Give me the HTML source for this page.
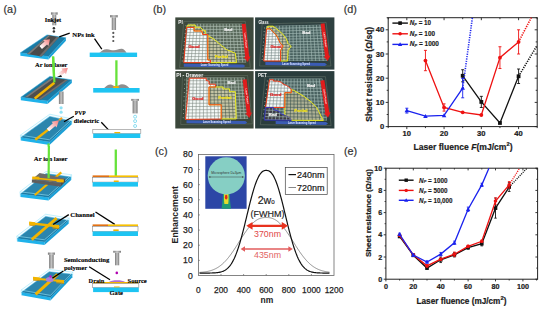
<!DOCTYPE html>
<html><head><meta charset="utf-8"><style>
html,body{margin:0;padding:0;background:#fff;width:550px;height:310px;overflow:hidden}
svg{display:block}
</style></head><body>
<svg width="550" height="310" viewBox="0 0 550 310">
<rect width="550" height="310" fill="#fff"/>
<text x="3.40" y="9.15" font-family="Liberation Sans" font-size="10.8" font-weight="normal" font-style="normal" fill="#333" text-anchor="start" dominant-baseline="central" stroke="#333" stroke-width="0.2">(a)</text>
<text x="153.00" y="8.90" font-family="Liberation Sans" font-size="10.8" font-weight="normal" font-style="normal" fill="#333" text-anchor="start" dominant-baseline="central" stroke="#333" stroke-width="0.2">(b)</text>
<text x="155.00" y="150.50" font-family="Liberation Sans" font-size="10.8" font-weight="normal" font-style="normal" fill="#333" text-anchor="start" dominant-baseline="central" stroke="#333" stroke-width="0.2">(c)</text>
<text x="343.70" y="9.15" font-family="Liberation Sans" font-size="10.8" font-weight="normal" font-style="normal" fill="#333" text-anchor="start" dominant-baseline="central" stroke="#333" stroke-width="0.2">(d)</text>
<text x="343.90" y="150.50" font-family="Liberation Sans" font-size="10.8" font-weight="normal" font-style="normal" fill="#333" text-anchor="start" dominant-baseline="central" stroke="#333" stroke-width="0.2">(e)</text>
<polygon points="20.40,52.80 48.50,56.60 48.50,59.60 20.40,55.80" fill="#1fb2ea" stroke="none" stroke-width="0" />
<polygon points="48.50,56.60 65.90,37.80 65.90,40.80 48.50,59.60" fill="#1a9fd6" stroke="none" stroke-width="0" />
<polygon points="20.40,52.80 47.00,34.90 65.90,37.80 48.50,56.60" fill="#1b7aa4" stroke="#22a6dc" stroke-width="0.5" />
<polygon points="27.00,53.90 48.60,35.30 59.00,37.20 41.50,56.60" fill="#4a4a4a" stroke="none" stroke-width="0" />
<polygon points="27.00,53.90 48.60,35.30 50.40,35.60 29.50,54.30" fill="#7a7a7a" stroke="none" stroke-width="0" />
<polygon points="39.00,56.20 56.80,36.80 59.00,37.20 41.50,56.60" fill="#6c6c6c" stroke="none" stroke-width="0" />
<defs><linearGradient id="pg407475" gradientUnits="userSpaceOnUse" x1="40.7" y1="47.5" x2="50.0" y2="39.3"><stop offset="0" stop-color="#ffffff"/><stop offset="1" stop-color="#f47c7c"/></linearGradient></defs>
<polygon points="41.96,48.93 47.07,44.42 48.45,45.98 50.00,39.30 43.18,40.00 44.56,41.56 39.44,46.07" fill="url(#pg407475)"/>
<defs><linearGradient id="nz54312" x1="0" x2="1" y1="0" y2="0"><stop offset="0" stop-color="#7a7a7a"/><stop offset="0.5" stop-color="#c4c4c4"/><stop offset="1" stop-color="#7a7a7a"/></linearGradient></defs>
<rect x="50.95" y="12.30" width="6.7" height="2.4" fill="url(#nz54312)"/>
<rect x="52.35" y="14.70" width="3.9" height="10.60" fill="url(#nz54312)"/>
<text x="52.90" y="19.20" font-family="Liberation Serif" font-size="6.6" font-weight="bold" fill="#000" stroke="#000" stroke-width="0.12" text-anchor="middle" dominant-baseline="central" textLength="16.4" lengthAdjust="spacingAndGlyphs">Inkjet</text>
<circle cx="53.9" cy="28.2" r="1.25" fill="#333"/><circle cx="53.9" cy="31.6" r="1.25" fill="#333"/>
<line x1="59.20" y1="36.80" x2="69.70" y2="33.20" stroke="#000" stroke-width="1.25" />
<text x="72.30" y="34.20" font-family="Liberation Serif" font-size="6.4" font-weight="bold" fill="#000" stroke="#000" stroke-width="0.12" text-anchor="start" dominant-baseline="central" textLength="22.5" lengthAdjust="spacingAndGlyphs">NPs ink</text>
<line x1="94.50" y1="38.70" x2="101.80" y2="49.20" stroke="#000" stroke-width="1.25" />
<defs><linearGradient id="nz113915" x1="0" x2="1" y1="0" y2="0"><stop offset="0" stop-color="#7a7a7a"/><stop offset="0.5" stop-color="#c4c4c4"/><stop offset="1" stop-color="#7a7a7a"/></linearGradient></defs>
<rect x="110.05" y="15.10" width="7.7" height="2.3" fill="url(#nz113915)"/>
<rect x="111.75" y="17.40" width="4.3" height="12.60" fill="url(#nz113915)"/>
<circle cx="113.3" cy="32.9" r="1.1" fill="#555"/>
<circle cx="113.3" cy="36.8" r="1.1" fill="#555"/>
<circle cx="113.3" cy="41.0" r="1.1" fill="#555"/>
<path d="M99.3,52.8 C102,50.8 104,49 107,49.3 C110,49.8 112,50.4 114,50.3 C117,50.2 119,48.5 122,48.7 C124,49 125.5,51 126.6,52.8 Z" fill="#8e8e8e"/>
<rect x="89.7" y="52.6" width="47.4" height="4.4" fill="#1ec4f2"/>
<line x1="116.40" y1="60.30" x2="116.40" y2="87.40" stroke="#66e23a" stroke-width="2.3" />
<line x1="53.00" y1="56.50" x2="54.20" y2="82.60" stroke="#66e23a" stroke-width="2.2" />
<text x="51.20" y="64.20" font-family="Liberation Serif" font-size="6.6" font-weight="bold" fill="#000" stroke="#000" stroke-width="0.12" text-anchor="middle" dominant-baseline="central" textLength="32.3" lengthAdjust="spacingAndGlyphs">Ar ion laser</text>
<polygon points="20.80,97.30 47.50,101.00 47.50,104.00 20.80,100.30" fill="#1fb2ea" stroke="none" stroke-width="0" />
<polygon points="47.50,101.00 71.80,79.90 71.80,82.90 47.50,104.00" fill="#1a9fd6" stroke="none" stroke-width="0" />
<polygon points="20.80,97.30 49.80,76.40 71.80,79.90 47.50,101.00" fill="#1b7aa4" stroke="#22a6dc" stroke-width="0.5" />
<polygon points="25.04,96.95 52.01,77.52 67.85,80.04 40.88,99.47" fill="#4e4e4e" stroke="none" stroke-width="0" />
<polygon points="25.04,96.95 52.01,77.52 54.43,77.90 27.46,97.34" fill="#7a7a7a" stroke="none" stroke-width="0" />
<polygon points="38.46,99.09 65.43,79.65 67.85,80.04 40.88,99.47" fill="#6e6e6e" stroke="none" stroke-width="0" />
<line x1="34.70" y1="98.40" x2="54.40" y2="82.80" stroke="#f2b400" stroke-width="2.5" />
<line x1="53.20" y1="56.50" x2="54.40" y2="82.40" stroke="#66e23a" stroke-width="2.2" />
<defs><linearGradient id="pg585755" gradientUnits="userSpaceOnUse" x1="58.5" y1="75.5" x2="67.8" y2="68.0"><stop offset="0" stop-color="#ffffff"/><stop offset="1" stop-color="#f47c7c"/></linearGradient></defs>
<polygon points="59.63,76.90 64.74,72.78 65.99,74.32 67.80,68.00 61.24,68.43 62.49,69.97 57.37,74.10" fill="url(#pg585755)"/>
<path d="M57,77 L61,75 L62,77 Z" fill="#111"/>
<path d="M104.2,88 C106,86 108,84.4 110.5,84.4 C112.5,84.6 113.5,86 116,86 C118.5,86 119.5,84.5 122,84.3 C125,84.3 127.5,86 129.3,88 Z" fill="#8e8e8e"/>
<rect x="113.3" y="86.2" width="5.4" height="2.0" fill="#f2b400"/>
<rect x="93.2" y="88.0" width="46.4" height="4.6" fill="#1ec4f2"/>
<defs><linearGradient id="nz61291" x1="0" x2="1" y1="0" y2="0"><stop offset="0" stop-color="#7a7a7a"/><stop offset="0.5" stop-color="#c4c4c4"/><stop offset="1" stop-color="#7a7a7a"/></linearGradient></defs>
<rect x="58.90" y="91.50" width="4.6" height="0.1" fill="url(#nz61291)"/>
<rect x="58.90" y="91.60" width="4.6" height="12.40" fill="url(#nz61291)"/>
<circle cx="61.1" cy="107.8" r="1.6" fill="#8fe2f6"/>
<circle cx="61.1" cy="112.2" r="1.6" fill="#8fe2f6"/>
<polygon points="20.80,137.40 49.50,142.00 49.50,145.00 20.80,140.40" fill="#1fb2ea" stroke="none" stroke-width="0" />
<polygon points="49.50,142.00 71.80,121.20 71.80,124.20 49.50,145.00" fill="#1a9fd6" stroke="none" stroke-width="0" />
<polygon points="20.80,137.40 49.80,116.40 71.80,121.20 49.50,142.00" fill="#1b7aa4" stroke="#22a6dc" stroke-width="0.5" />
<polygon points="20.30,135.20 49.80,114.20 72.30,119.00 49.50,139.80" fill="#bfefff" fill-opacity="0.10" stroke="#9be6fa" stroke-width="0.6"/>
<line x1="20.30" y1="135.20" x2="20.80" y2="140.40" stroke="#9be6fa" stroke-width="0.5" />
<line x1="72.30" y1="119.00" x2="71.80" y2="124.20" stroke="#9be6fa" stroke-width="0.5" />
<line x1="35.30" y1="139.80" x2="48.60" y2="129.40" stroke="#f2b400" stroke-width="2.4" />
<defs><linearGradient id="pg4801300" gradientUnits="userSpaceOnUse" x1="48.0" y1="130.0" x2="59.0" y2="120.2"><stop offset="0" stop-color="#ffffff"/><stop offset="1" stop-color="#f47c7c"/></linearGradient></defs>
<polygon points="49.20,131.34 55.25,125.95 56.56,127.43 59.00,120.20 51.54,121.79 52.85,123.27 46.80,128.66" fill="url(#pg4801300)"/>
<line x1="59.20" y1="120.30" x2="62.00" y2="117.80" stroke="#f0a020" stroke-width="2.2" />
<line x1="64.00" y1="121.80" x2="73.80" y2="116.30" stroke="#000" stroke-width="1.25" />
<text x="74.80" y="112.80" font-family="Liberation Serif" font-size="6.6" font-weight="bold" fill="#000" stroke="#000" stroke-width="0.12" text-anchor="start" dominant-baseline="central" textLength="11" lengthAdjust="spacingAndGlyphs">PVP</text>
<text x="73.80" y="120.40" font-family="Liberation Serif" font-size="6.6" font-weight="bold" fill="#000" stroke="#000" stroke-width="0.12" text-anchor="start" dominant-baseline="central" textLength="25.3" lengthAdjust="spacingAndGlyphs">dielectric</text>
<line x1="101.30" y1="122.20" x2="109.00" y2="130.40" stroke="#000" stroke-width="1.25" />
<defs><linearGradient id="nz135198" x1="0" x2="1" y1="0" y2="0"><stop offset="0" stop-color="#7a7a7a"/><stop offset="0.5" stop-color="#c4c4c4"/><stop offset="1" stop-color="#7a7a7a"/></linearGradient></defs>
<rect x="131.25" y="98.90" width="7.7" height="1.9" fill="url(#nz135198)"/>
<rect x="132.60" y="100.80" width="5.0" height="12.60" fill="url(#nz135198)"/>
<circle cx="135.1" cy="116.7" r="1.5" fill="#fff" stroke="#6fd6ee" stroke-width="0.8"/>
<circle cx="135.1" cy="121.1" r="1.5" fill="#fff" stroke="#6fd6ee" stroke-width="0.8"/>
<circle cx="135.1" cy="126.0" r="1.5" fill="#fff" stroke="#6fd6ee" stroke-width="0.8"/>
<rect x="92.8" y="129.4" width="48" height="4.0" fill="#fff" stroke="#888" stroke-width="0.6"/>
<rect x="114.4" y="132.0" width="5.8" height="1.3" fill="#f2b400"/>
<rect x="93.2" y="133.6" width="47.1" height="4.4" fill="#1ec4f2"/>
<line x1="115.80" y1="149.50" x2="115.80" y2="176.00" stroke="#66e23a" stroke-width="2.3" />
<line x1="48.60" y1="143.50" x2="48.60" y2="146.50" stroke="#66e23a" stroke-width="2.2" />
<text x="50.70" y="158.80" font-family="Liberation Serif" font-size="6.4" font-weight="bold" fill="#000" stroke="#000" stroke-width="0.12" text-anchor="middle" dominant-baseline="central" textLength="33.7" lengthAdjust="spacingAndGlyphs">Ar ion laser</text>
<polygon points="20.40,194.00 48.50,197.60 48.50,200.60 20.40,197.00" fill="#1fb2ea" stroke="none" stroke-width="0" />
<polygon points="48.50,197.60 71.20,177.00 71.20,180.00 48.50,200.60" fill="#1a9fd6" stroke="none" stroke-width="0" />
<polygon points="20.40,194.00 46.00,173.60 71.20,177.00 48.50,197.60" fill="#1b7aa4" stroke="#22a6dc" stroke-width="0.5" />
<polygon points="19.90,191.80 46.00,171.40 71.70,174.80 48.50,195.40" fill="#bfefff" fill-opacity="0.10" stroke="#9be6fa" stroke-width="0.6"/>
<line x1="19.90" y1="191.80" x2="20.40" y2="197.00" stroke="#9be6fa" stroke-width="0.5" />
<line x1="71.70" y1="174.80" x2="71.20" y2="180.00" stroke="#9be6fa" stroke-width="0.5" />
<line x1="34.80" y1="195.00" x2="61.30" y2="172.30" stroke="#f2b400" stroke-width="2.2" />
<polygon points="31.90,179.40 60.50,183.00 60.50,186.80 31.90,182.60" fill="#5e5e5e" stroke="none" stroke-width="0" />
<polygon points="60.50,183.00 65.10,178.60 65.10,181.80 60.50,186.80" fill="#4c4c4c" stroke="none" stroke-width="0" />
<polygon points="39.60,173.00 65.10,178.60 60.50,183.00 31.90,179.40" fill="#6c6c6c" stroke="none" stroke-width="0" />
<line x1="32.50" y1="178.00" x2="63.50" y2="180.80" stroke="#f2b400" stroke-width="1.7" />
<polygon points="32.30,176.40 39.30,176.80 39.30,179.60 32.30,179.30" fill="#f2b400" stroke="none" stroke-width="0" />
<polygon points="56.60,179.00 63.60,179.40 63.60,182.40 56.60,182.00" fill="#f2b400" stroke="none" stroke-width="0" />
<line x1="48.90" y1="146.00" x2="48.60" y2="178.20" stroke="#66e23a" stroke-width="2.2" />
<rect x="92.6" y="175.4" width="16.4" height="1.9" fill="#e27012"/>
<rect x="109" y="175.4" width="29" height="1.9" fill="#f8c000"/>
<rect x="92.6" y="177.3" width="45.4" height="4.8" fill="#fff" stroke="#888" stroke-width="0.6"/>
<rect x="113.8" y="180.5" width="4.9" height="1.5" fill="#f2b400"/>
<rect x="92.6" y="182.1" width="45.4" height="4.5" fill="#1ec4f2"/>
<polygon points="17.20,238.40 44.50,242.00 44.50,245.00 17.20,241.40" fill="#1fb2ea" stroke="none" stroke-width="0" />
<polygon points="44.50,242.00 68.80,220.40 68.80,223.40 44.50,245.00" fill="#1a9fd6" stroke="none" stroke-width="0" />
<polygon points="17.20,238.40 45.60,216.40 68.80,220.40 44.50,242.00" fill="#1b7aa4" stroke="#22a6dc" stroke-width="0.5" />
<polygon points="16.70,236.20 45.60,214.20 69.30,218.20 44.50,239.80" fill="#bfefff" fill-opacity="0.10" stroke="#9be6fa" stroke-width="0.6"/>
<line x1="16.70" y1="236.20" x2="17.20" y2="241.40" stroke="#9be6fa" stroke-width="0.5" />
<line x1="69.30" y1="218.20" x2="68.80" y2="223.40" stroke="#9be6fa" stroke-width="0.5" />
<line x1="31.70" y1="239.60" x2="56.70" y2="218.10" stroke="#f2b400" stroke-width="2.8" />
<line x1="29.40" y1="223.30" x2="59.00" y2="226.40" stroke="#f2b400" stroke-width="2.4" />
<polygon points="29.20,221.60 35.00,222.20 35.00,225.40 29.20,224.80" fill="#f2b400" stroke="none" stroke-width="0" />
<polygon points="52.50,224.40 59.20,225.00 59.20,228.30 52.50,227.60" fill="#f2b400" stroke="none" stroke-width="0" />
<polygon points="29.20,224.80 35.00,225.40 35.00,226.20 29.20,225.60" fill="#c98a00" stroke="none" stroke-width="0" />
<polygon points="52.50,227.60 59.20,228.30 59.20,229.10 52.50,228.40" fill="#c98a00" stroke="none" stroke-width="0" />
<line x1="53.20" y1="224.50" x2="68.80" y2="214.60" stroke="#000" stroke-width="1.25" />
<text x="70.30" y="214.30" font-family="Liberation Serif" font-size="6.6" font-weight="bold" fill="#000" stroke="#000" stroke-width="0.12" text-anchor="start" dominant-baseline="central" textLength="24.2" lengthAdjust="spacingAndGlyphs">Channel</text>
<line x1="95.50" y1="212.00" x2="114.80" y2="224.40" stroke="#000" stroke-width="1.25" />
<rect x="92.6" y="224.4" width="15.4" height="1.9" fill="#e27012"/>
<rect x="108" y="224.4" width="30" height="1.9" fill="#f8c000"/>
<rect x="92.6" y="226.3" width="45.4" height="5.1" fill="#fff" stroke="#888" stroke-width="0.6"/>
<rect x="113.3" y="229.4" width="5.4" height="1.6" fill="#f2b400"/>
<rect x="92.6" y="231.4" width="45.4" height="4.6" fill="#1ec4f2"/>
<defs><linearGradient id="nz514252" x1="0" x2="1" y1="0" y2="0"><stop offset="0" stop-color="#7a7a7a"/><stop offset="0.5" stop-color="#c4c4c4"/><stop offset="1" stop-color="#7a7a7a"/></linearGradient></defs>
<rect x="47.90" y="252.50" width="7.0" height="2.3" fill="url(#nz514252)"/>
<rect x="49.10" y="254.80" width="4.6" height="13.70" fill="url(#nz514252)"/>
<polygon points="21.50,292.30 50.50,297.60 50.50,300.60 21.50,295.30" fill="#1fb2ea" stroke="none" stroke-width="0" />
<polygon points="50.50,297.60 72.40,274.30 72.40,277.30 50.50,300.60" fill="#1a9fd6" stroke="none" stroke-width="0" />
<polygon points="21.50,292.30 49.20,271.70 72.40,274.30 50.50,297.60" fill="#1b7aa4" stroke="#22a6dc" stroke-width="0.5" />
<polygon points="21.00,290.10 49.20,269.50 72.90,272.10 50.50,295.40" fill="#bfefff" fill-opacity="0.10" stroke="#9be6fa" stroke-width="0.6"/>
<line x1="21.00" y1="290.10" x2="21.50" y2="295.30" stroke="#9be6fa" stroke-width="0.5" />
<line x1="72.90" y1="272.10" x2="72.40" y2="277.30" stroke="#9be6fa" stroke-width="0.5" />
<line x1="35.60" y1="294.30" x2="57.60" y2="274.30" stroke="#f2b400" stroke-width="3.0" />
<line x1="33.50" y1="278.40" x2="63.50" y2="281.20" stroke="#f2b400" stroke-width="2.0" />
<polygon points="33.00,276.80 40.20,277.50 40.20,280.40 33.00,279.80" fill="#f2b400" stroke="none" stroke-width="0" />
<polygon points="56.30,279.40 64.00,280.10 64.00,283.00 56.30,282.40" fill="#f2b400" stroke="none" stroke-width="0" />
<polygon points="33.00,279.80 40.20,280.40 40.20,281.20 33.00,280.60" fill="#c98a00" stroke="none" stroke-width="0" />
<polygon points="56.30,282.40 64.00,283.00 64.00,283.80 56.30,283.20" fill="#c98a00" stroke="none" stroke-width="0" />
<ellipse cx="49.8" cy="279.6" rx="3.9" ry="2.5" fill="#a882e0"/>
<circle cx="50.5" cy="276.5" r="1.2" fill="#d010c8"/>
<line x1="52.40" y1="278.10" x2="63.40" y2="271.00" stroke="#000" stroke-width="1.25" />
<text x="63.90" y="259.60" font-family="Liberation Serif" font-size="6.9" font-weight="bold" fill="#000" stroke="#000" stroke-width="0.12" text-anchor="start" dominant-baseline="central" textLength="45.5" lengthAdjust="spacingAndGlyphs">Semiconducting</text>
<text x="63.90" y="267.60" font-family="Liberation Serif" font-size="6.9" font-weight="bold" fill="#000" stroke="#000" stroke-width="0.12" text-anchor="start" dominant-baseline="central" textLength="23.2" lengthAdjust="spacingAndGlyphs">polymer</text>
<line x1="89.10" y1="266.70" x2="110.00" y2="279.70" stroke="#000" stroke-width="1.25" />
<defs><linearGradient id="nz1171250" x1="0" x2="1" y1="0" y2="0"><stop offset="0" stop-color="#7a7a7a"/><stop offset="0.5" stop-color="#c4c4c4"/><stop offset="1" stop-color="#7a7a7a"/></linearGradient></defs>
<rect x="113.20" y="250.80" width="7.8" height="1.9" fill="url(#nz1171250)"/>
<rect x="115.00" y="252.70" width="4.2" height="12.60" fill="url(#nz1171250)"/>
<circle cx="116.8" cy="272.9" r="1.3" fill="#b000b0"/>
<rect x="93.1" y="282" width="45.2" height="1.6" fill="#f2b400"/>
<path d="M108.9,282 C112,279.8 122,279.8 125.3,282 Z" fill="#b070d0"/>
<rect x="92.5" y="283.6" width="46.3" height="4.0" fill="#fff" stroke="#888" stroke-width="0.6"/>
<rect x="114" y="286.5" width="5.6" height="1.1" fill="#f2b400"/>
<rect x="93.1" y="287.6" width="45.7" height="4.5" fill="#1ec4f2"/>
<text x="88.60" y="280.10" font-family="Liberation Serif" font-size="6.9" font-weight="bold" fill="#000" stroke="#000" stroke-width="0.12" text-anchor="start" dominant-baseline="central" textLength="15.8" lengthAdjust="spacingAndGlyphs">Drain</text>
<text x="127.50" y="280.10" font-family="Liberation Serif" font-size="6.9" font-weight="bold" fill="#000" stroke="#000" stroke-width="0.12" text-anchor="start" dominant-baseline="central" textLength="19.3" lengthAdjust="spacingAndGlyphs">Source</text>
<text x="109.50" y="292.20" font-family="Liberation Serif" font-size="6.9" font-weight="bold" fill="#000" stroke="#000" stroke-width="0.12" text-anchor="start" dominant-baseline="central" textLength="13.5" lengthAdjust="spacingAndGlyphs">Gate</text>
<defs><filter id="pblur" x="-2%" y="-2%" width="104%" height="104%"><feGaussianBlur stdDeviation="0.35"/></filter></defs>
<g transform="translate(175.3 17.4)" filter="url(#pblur)">
<rect x="0" y="0" width="78.3" height="52.2" fill="#3d4a3e"/>
<polygon points="8.5,4.0 70,4.0 75,50.2 4.300000000000001,50.2" fill="none" stroke="#7a8a7a" stroke-width="0.6" opacity="0.6"/>
<clipPath id="gc0"><polygon points="12.5,6.0 67,6.0 71,45.2 8.3,45.2"/></clipPath>
<polygon points="12.5,6.0 67,6.0 71,45.2 8.3,45.2" fill="#5a6a5c"/>
<g clip-path="url(#gc0)">
<line x1="12.50" y1="6.00" x2="8.30" y2="45.20" stroke="#b0c0b4" stroke-width="0.7" stroke-opacity="0.9"/>
<line x1="15.71" y1="6.00" x2="11.99" y2="45.20" stroke="#b0c0b4" stroke-width="0.7" stroke-opacity="0.9"/>
<line x1="18.91" y1="6.00" x2="15.68" y2="45.20" stroke="#b0c0b4" stroke-width="0.7" stroke-opacity="0.9"/>
<line x1="22.12" y1="6.00" x2="19.36" y2="45.20" stroke="#b0c0b4" stroke-width="0.7" stroke-opacity="0.9"/>
<line x1="25.32" y1="6.00" x2="23.05" y2="45.20" stroke="#b0c0b4" stroke-width="0.7" stroke-opacity="0.9"/>
<line x1="28.53" y1="6.00" x2="26.74" y2="45.20" stroke="#b0c0b4" stroke-width="0.7" stroke-opacity="0.9"/>
<line x1="31.74" y1="6.00" x2="30.43" y2="45.20" stroke="#b0c0b4" stroke-width="0.7" stroke-opacity="0.9"/>
<line x1="34.94" y1="6.00" x2="34.12" y2="45.20" stroke="#b0c0b4" stroke-width="0.7" stroke-opacity="0.9"/>
<line x1="38.15" y1="6.00" x2="37.81" y2="45.20" stroke="#b0c0b4" stroke-width="0.7" stroke-opacity="0.9"/>
<line x1="41.35" y1="6.00" x2="41.49" y2="45.20" stroke="#b0c0b4" stroke-width="0.7" stroke-opacity="0.9"/>
<line x1="44.56" y1="6.00" x2="45.18" y2="45.20" stroke="#b0c0b4" stroke-width="0.7" stroke-opacity="0.9"/>
<line x1="47.76" y1="6.00" x2="48.87" y2="45.20" stroke="#b0c0b4" stroke-width="0.7" stroke-opacity="0.9"/>
<line x1="50.97" y1="6.00" x2="52.56" y2="45.20" stroke="#b0c0b4" stroke-width="0.7" stroke-opacity="0.9"/>
<line x1="54.18" y1="6.00" x2="56.25" y2="45.20" stroke="#b0c0b4" stroke-width="0.7" stroke-opacity="0.9"/>
<line x1="57.38" y1="6.00" x2="59.94" y2="45.20" stroke="#b0c0b4" stroke-width="0.7" stroke-opacity="0.9"/>
<line x1="60.59" y1="6.00" x2="63.62" y2="45.20" stroke="#b0c0b4" stroke-width="0.7" stroke-opacity="0.9"/>
<line x1="63.79" y1="6.00" x2="67.31" y2="45.20" stroke="#b0c0b4" stroke-width="0.7" stroke-opacity="0.9"/>
<line x1="67.00" y1="6.00" x2="71.00" y2="45.20" stroke="#b0c0b4" stroke-width="0.7" stroke-opacity="0.9"/>
<line x1="12.50" y1="6.00" x2="67.00" y2="6.00" stroke="#b0c0b4" stroke-width="0.7" stroke-opacity="0.9"/>
<line x1="12.18" y1="9.02" x2="67.31" y2="9.02" stroke="#b0c0b4" stroke-width="0.7" stroke-opacity="0.9"/>
<line x1="11.85" y1="12.03" x2="67.62" y2="12.03" stroke="#b0c0b4" stroke-width="0.7" stroke-opacity="0.9"/>
<line x1="11.53" y1="15.05" x2="67.92" y2="15.05" stroke="#b0c0b4" stroke-width="0.7" stroke-opacity="0.9"/>
<line x1="11.21" y1="18.06" x2="68.23" y2="18.06" stroke="#b0c0b4" stroke-width="0.7" stroke-opacity="0.9"/>
<line x1="10.88" y1="21.08" x2="68.54" y2="21.08" stroke="#b0c0b4" stroke-width="0.7" stroke-opacity="0.9"/>
<line x1="10.56" y1="24.09" x2="68.85" y2="24.09" stroke="#b0c0b4" stroke-width="0.7" stroke-opacity="0.9"/>
<line x1="10.24" y1="27.11" x2="69.15" y2="27.11" stroke="#b0c0b4" stroke-width="0.7" stroke-opacity="0.9"/>
<line x1="9.92" y1="30.12" x2="69.46" y2="30.12" stroke="#b0c0b4" stroke-width="0.7" stroke-opacity="0.9"/>
<line x1="9.59" y1="33.14" x2="69.77" y2="33.14" stroke="#b0c0b4" stroke-width="0.7" stroke-opacity="0.9"/>
<line x1="9.27" y1="36.15" x2="70.08" y2="36.15" stroke="#b0c0b4" stroke-width="0.7" stroke-opacity="0.9"/>
<line x1="8.95" y1="39.17" x2="70.38" y2="39.17" stroke="#b0c0b4" stroke-width="0.7" stroke-opacity="0.9"/>
<line x1="8.62" y1="42.18" x2="70.69" y2="42.18" stroke="#b0c0b4" stroke-width="0.7" stroke-opacity="0.9"/>
<line x1="8.30" y1="45.20" x2="71.00" y2="45.20" stroke="#b0c0b4" stroke-width="0.7" stroke-opacity="0.9"/>
<polygon points="12.60,7.60 20.00,7.60 20.00,9.80 25.00,9.80 28.00,13.00 30.00,13.00 30.00,16.00 33.50,18.60 39.00,22.00 46.00,28.00 51.30,32.20 60.00,35.80 61.20,45.20 35.20,45.20 35.20,42.60 32.50,42.60 32.50,17.10 27.40,17.10 26.50,13.60 18.80,13.60 18.80,10.00 11.20,10.00" fill="#c4c4a4" stroke="none" stroke-width="0" />
<polygon points="11.20,10.00 18.80,10.00 18.80,13.60 26.50,13.60 27.40,17.10 32.50,17.10 32.50,42.60 35.20,42.60 35.20,45.20 8.50,45.20" fill="#f0f6f4" stroke="none" stroke-width="0" />
<clipPath id="gp0"><polygon points="11.20,10.00 18.80,10.00 18.80,13.60 26.50,13.60 27.40,17.10 32.50,17.10 32.50,42.60 35.20,42.60 35.20,45.20 8.50,45.20"/><polygon points="12.60,7.60 20.00,7.60 20.00,9.80 25.00,9.80 28.00,13.00 30.00,13.00 30.00,16.00 33.50,18.60 39.00,22.00 46.00,28.00 51.30,32.20 60.00,35.80 61.20,45.20 35.20,45.20 35.20,42.60 32.50,42.60 32.50,17.10 27.40,17.10 26.50,13.60 18.80,13.60 18.80,10.00 11.20,10.00"/></clipPath>
<g clip-path="url(#gp0)">
<line x1="12.50" y1="6.00" x2="8.30" y2="45.20" stroke="#44544a" stroke-width="0.75" stroke-opacity="0.75"/>
<line x1="15.71" y1="6.00" x2="11.99" y2="45.20" stroke="#44544a" stroke-width="0.75" stroke-opacity="0.75"/>
<line x1="18.91" y1="6.00" x2="15.68" y2="45.20" stroke="#44544a" stroke-width="0.75" stroke-opacity="0.75"/>
<line x1="22.12" y1="6.00" x2="19.36" y2="45.20" stroke="#44544a" stroke-width="0.75" stroke-opacity="0.75"/>
<line x1="25.32" y1="6.00" x2="23.05" y2="45.20" stroke="#44544a" stroke-width="0.75" stroke-opacity="0.75"/>
<line x1="28.53" y1="6.00" x2="26.74" y2="45.20" stroke="#44544a" stroke-width="0.75" stroke-opacity="0.75"/>
<line x1="31.74" y1="6.00" x2="30.43" y2="45.20" stroke="#44544a" stroke-width="0.75" stroke-opacity="0.75"/>
<line x1="34.94" y1="6.00" x2="34.12" y2="45.20" stroke="#44544a" stroke-width="0.75" stroke-opacity="0.75"/>
<line x1="38.15" y1="6.00" x2="37.81" y2="45.20" stroke="#44544a" stroke-width="0.75" stroke-opacity="0.75"/>
<line x1="41.35" y1="6.00" x2="41.49" y2="45.20" stroke="#44544a" stroke-width="0.75" stroke-opacity="0.75"/>
<line x1="44.56" y1="6.00" x2="45.18" y2="45.20" stroke="#44544a" stroke-width="0.75" stroke-opacity="0.75"/>
<line x1="47.76" y1="6.00" x2="48.87" y2="45.20" stroke="#44544a" stroke-width="0.75" stroke-opacity="0.75"/>
<line x1="50.97" y1="6.00" x2="52.56" y2="45.20" stroke="#44544a" stroke-width="0.75" stroke-opacity="0.75"/>
<line x1="54.18" y1="6.00" x2="56.25" y2="45.20" stroke="#44544a" stroke-width="0.75" stroke-opacity="0.75"/>
<line x1="57.38" y1="6.00" x2="59.94" y2="45.20" stroke="#44544a" stroke-width="0.75" stroke-opacity="0.75"/>
<line x1="60.59" y1="6.00" x2="63.62" y2="45.20" stroke="#44544a" stroke-width="0.75" stroke-opacity="0.75"/>
<line x1="63.79" y1="6.00" x2="67.31" y2="45.20" stroke="#44544a" stroke-width="0.75" stroke-opacity="0.75"/>
<line x1="67.00" y1="6.00" x2="71.00" y2="45.20" stroke="#44544a" stroke-width="0.75" stroke-opacity="0.75"/>
<line x1="12.50" y1="6.00" x2="67.00" y2="6.00" stroke="#44544a" stroke-width="0.75" stroke-opacity="0.75"/>
<line x1="12.18" y1="9.02" x2="67.31" y2="9.02" stroke="#44544a" stroke-width="0.75" stroke-opacity="0.75"/>
<line x1="11.85" y1="12.03" x2="67.62" y2="12.03" stroke="#44544a" stroke-width="0.75" stroke-opacity="0.75"/>
<line x1="11.53" y1="15.05" x2="67.92" y2="15.05" stroke="#44544a" stroke-width="0.75" stroke-opacity="0.75"/>
<line x1="11.21" y1="18.06" x2="68.23" y2="18.06" stroke="#44544a" stroke-width="0.75" stroke-opacity="0.75"/>
<line x1="10.88" y1="21.08" x2="68.54" y2="21.08" stroke="#44544a" stroke-width="0.75" stroke-opacity="0.75"/>
<line x1="10.56" y1="24.09" x2="68.85" y2="24.09" stroke="#44544a" stroke-width="0.75" stroke-opacity="0.75"/>
<line x1="10.24" y1="27.11" x2="69.15" y2="27.11" stroke="#44544a" stroke-width="0.75" stroke-opacity="0.75"/>
<line x1="9.92" y1="30.12" x2="69.46" y2="30.12" stroke="#44544a" stroke-width="0.75" stroke-opacity="0.75"/>
<line x1="9.59" y1="33.14" x2="69.77" y2="33.14" stroke="#44544a" stroke-width="0.75" stroke-opacity="0.75"/>
<line x1="9.27" y1="36.15" x2="70.08" y2="36.15" stroke="#44544a" stroke-width="0.75" stroke-opacity="0.75"/>
<line x1="8.95" y1="39.17" x2="70.38" y2="39.17" stroke="#44544a" stroke-width="0.75" stroke-opacity="0.75"/>
<line x1="8.62" y1="42.18" x2="70.69" y2="42.18" stroke="#44544a" stroke-width="0.75" stroke-opacity="0.75"/>
<line x1="8.30" y1="45.20" x2="71.00" y2="45.20" stroke="#44544a" stroke-width="0.75" stroke-opacity="0.75"/>
</g>
<polygon points="11.20,10.00 18.80,10.00 18.80,13.60 26.50,13.60 27.40,17.10 32.50,17.10 32.50,42.60 35.20,42.60 35.20,45.20 8.50,45.20" fill="#ffffff" stroke="none" stroke-width="0" fill-opacity="0.3"/>
</g>
<polygon points="12.60,7.60 20.00,7.60 20.00,9.80 25.00,9.80 28.00,13.00 30.00,13.00 30.00,16.00 33.50,18.60 39.00,22.00 46.00,28.00 51.30,32.20 60.00,35.80 61.20,45.20 35.20,45.20 35.20,42.60 32.50,42.60 32.50,17.10 27.40,17.10 26.50,13.60 18.80,13.60 18.80,10.00 11.20,10.00" fill="none" stroke="#ecec1c" stroke-width="1.0"/>
<polygon points="11.20,10.00 18.80,10.00 18.80,13.60 26.50,13.60 27.40,17.10 32.50,17.10 32.50,42.60 35.20,42.60 35.20,45.20 8.50,45.20" fill="none" stroke="#ee3a1a" stroke-width="1.0"/>
<polygon points="66.41,6.71 69.89,39.74 68.50,39.88 72.40,44.50 75.26,39.17 73.87,39.32 70.39,6.29" fill="#e01c1c" stroke="none" stroke-width="0" />
<text x="70.14" y="23.01" font-family="Liberation Sans" font-size="2.6" font-weight="bold" fill="#ffd8d8" text-anchor="middle" dominant-baseline="central" transform="rotate(84.0 70.14 23.01)">Laser Power</text>
<polygon points="8.50,46.40 68.00,47.10 70.00,48.60 68.00,50.10 8.50,49.40" fill="#3a5cb4" stroke="none" stroke-width="0" />
<text x="39.25" y="48.35" font-family="Liberation Sans" font-size="2.6" font-weight="bold" fill="#e0e8ff" text-anchor="middle" dominant-baseline="central">Laser Scanning Speed</text>
<rect x="10.29" y="7.96" width="0.9" height="0.7" fill="#c0c8c0"/>
<rect x="9.87" y="11.88" width="0.9" height="0.7" fill="#c0c8c0"/>
<rect x="9.45" y="15.80" width="0.9" height="0.7" fill="#c0c8c0"/>
<rect x="9.03" y="19.72" width="0.9" height="0.7" fill="#c0c8c0"/>
<rect x="8.61" y="23.64" width="0.9" height="0.7" fill="#c0c8c0"/>
<rect x="8.19" y="27.56" width="0.9" height="0.7" fill="#c0c8c0"/>
<rect x="7.77" y="31.48" width="0.9" height="0.7" fill="#c0c8c0"/>
<rect x="7.35" y="35.40" width="0.9" height="0.7" fill="#c0c8c0"/>
<rect x="6.93" y="39.32" width="0.9" height="0.7" fill="#c0c8c0"/>
<rect x="6.51" y="43.24" width="0.9" height="0.7" fill="#c0c8c0"/>
<text x="53" y="12" font-family="Liberation Sans" font-size="4.3" font-weight="bold" fill="#f0f0f0" stroke="#f0f0f0" stroke-width="0.2" text-anchor="middle" dominant-baseline="central">Bad</text>
<text x="18.8" y="29" font-family="Liberation Sans" font-size="4.3" font-weight="bold" fill="#e02020" stroke="#e02020" stroke-width="0.2" text-anchor="middle" dominant-baseline="central">Good</text>
<text x="46" y="39.3" font-family="Liberation Sans" font-size="4.3" font-weight="bold" fill="#f0e020" stroke="#f0e020" stroke-width="0.2" text-anchor="middle" dominant-baseline="central">Partial</text>
<text x="3" y="4.9" font-family="Liberation Sans" font-size="4.6" font-weight="bold" fill="#f4f4f4" dominant-baseline="central" textLength="4.4" lengthAdjust="spacingAndGlyphs">PI</text>
</g>
<g transform="translate(255.1 17.4)" filter="url(#pblur)">
<rect x="0" y="0" width="79.3" height="52.2" fill="#2e4140"/>
<polygon points="7,6.5 71,5.0 75.8,48.6 4.5,48.6" fill="none" stroke="#7a8a7a" stroke-width="0.6" opacity="0.6"/>
<clipPath id="gc1"><polygon points="11,8.5 68,7.0 71.8,43.6 8.5,43.6"/></clipPath>
<polygon points="11,8.5 68,7.0 71.8,43.6 8.5,43.6" fill="#4a6260"/>
<g clip-path="url(#gc1)">
<line x1="11.00" y1="8.50" x2="8.50" y2="43.60" stroke="#a4bcb8" stroke-width="0.7" stroke-opacity="0.9"/>
<line x1="14.35" y1="8.41" x2="12.22" y2="43.60" stroke="#a4bcb8" stroke-width="0.7" stroke-opacity="0.9"/>
<line x1="17.71" y1="8.32" x2="15.95" y2="43.60" stroke="#a4bcb8" stroke-width="0.7" stroke-opacity="0.9"/>
<line x1="21.06" y1="8.24" x2="19.67" y2="43.60" stroke="#a4bcb8" stroke-width="0.7" stroke-opacity="0.9"/>
<line x1="24.41" y1="8.15" x2="23.39" y2="43.60" stroke="#a4bcb8" stroke-width="0.7" stroke-opacity="0.9"/>
<line x1="27.76" y1="8.06" x2="27.12" y2="43.60" stroke="#a4bcb8" stroke-width="0.7" stroke-opacity="0.9"/>
<line x1="31.12" y1="7.97" x2="30.84" y2="43.60" stroke="#a4bcb8" stroke-width="0.7" stroke-opacity="0.9"/>
<line x1="34.47" y1="7.88" x2="34.56" y2="43.60" stroke="#a4bcb8" stroke-width="0.7" stroke-opacity="0.9"/>
<line x1="37.82" y1="7.79" x2="38.29" y2="43.60" stroke="#a4bcb8" stroke-width="0.7" stroke-opacity="0.9"/>
<line x1="41.18" y1="7.71" x2="42.01" y2="43.60" stroke="#a4bcb8" stroke-width="0.7" stroke-opacity="0.9"/>
<line x1="44.53" y1="7.62" x2="45.74" y2="43.60" stroke="#a4bcb8" stroke-width="0.7" stroke-opacity="0.9"/>
<line x1="47.88" y1="7.53" x2="49.46" y2="43.60" stroke="#a4bcb8" stroke-width="0.7" stroke-opacity="0.9"/>
<line x1="51.24" y1="7.44" x2="53.18" y2="43.60" stroke="#a4bcb8" stroke-width="0.7" stroke-opacity="0.9"/>
<line x1="54.59" y1="7.35" x2="56.91" y2="43.60" stroke="#a4bcb8" stroke-width="0.7" stroke-opacity="0.9"/>
<line x1="57.94" y1="7.26" x2="60.63" y2="43.60" stroke="#a4bcb8" stroke-width="0.7" stroke-opacity="0.9"/>
<line x1="61.29" y1="7.18" x2="64.35" y2="43.60" stroke="#a4bcb8" stroke-width="0.7" stroke-opacity="0.9"/>
<line x1="64.65" y1="7.09" x2="68.08" y2="43.60" stroke="#a4bcb8" stroke-width="0.7" stroke-opacity="0.9"/>
<line x1="68.00" y1="7.00" x2="71.80" y2="43.60" stroke="#a4bcb8" stroke-width="0.7" stroke-opacity="0.9"/>
<line x1="11.00" y1="8.50" x2="68.00" y2="7.00" stroke="#a4bcb8" stroke-width="0.7" stroke-opacity="0.9"/>
<line x1="10.81" y1="11.20" x2="68.29" y2="9.82" stroke="#a4bcb8" stroke-width="0.7" stroke-opacity="0.9"/>
<line x1="10.62" y1="13.90" x2="68.58" y2="12.63" stroke="#a4bcb8" stroke-width="0.7" stroke-opacity="0.9"/>
<line x1="10.42" y1="16.60" x2="68.88" y2="15.45" stroke="#a4bcb8" stroke-width="0.7" stroke-opacity="0.9"/>
<line x1="10.23" y1="19.30" x2="69.17" y2="18.26" stroke="#a4bcb8" stroke-width="0.7" stroke-opacity="0.9"/>
<line x1="10.04" y1="22.00" x2="69.46" y2="21.08" stroke="#a4bcb8" stroke-width="0.7" stroke-opacity="0.9"/>
<line x1="9.85" y1="24.70" x2="69.75" y2="23.89" stroke="#a4bcb8" stroke-width="0.7" stroke-opacity="0.9"/>
<line x1="9.65" y1="27.40" x2="70.05" y2="26.71" stroke="#a4bcb8" stroke-width="0.7" stroke-opacity="0.9"/>
<line x1="9.46" y1="30.10" x2="70.34" y2="29.52" stroke="#a4bcb8" stroke-width="0.7" stroke-opacity="0.9"/>
<line x1="9.27" y1="32.80" x2="70.63" y2="32.34" stroke="#a4bcb8" stroke-width="0.7" stroke-opacity="0.9"/>
<line x1="9.08" y1="35.50" x2="70.92" y2="35.15" stroke="#a4bcb8" stroke-width="0.7" stroke-opacity="0.9"/>
<line x1="8.88" y1="38.20" x2="71.22" y2="37.97" stroke="#a4bcb8" stroke-width="0.7" stroke-opacity="0.9"/>
<line x1="8.69" y1="40.90" x2="71.51" y2="40.78" stroke="#a4bcb8" stroke-width="0.7" stroke-opacity="0.9"/>
<line x1="8.50" y1="43.60" x2="71.80" y2="43.60" stroke="#a4bcb8" stroke-width="0.7" stroke-opacity="0.9"/>
<polygon points="12.50,8.80 18.00,8.80 21.00,11.00 24.00,13.50 27.50,16.50 31.00,21.00 33.00,26.00 36.00,29.00 33.00,33.00 32.50,43.60 25.50,43.60 25.50,33.00 28.00,28.50 25.00,25.50 22.50,20.00 20.50,17.00 18.00,14.50 15.00,11.50 11.50,11.50" fill="#c4c4a4" stroke="none" stroke-width="0" />
<polygon points="11.50,11.50 15.00,11.50 18.00,14.50 20.50,17.00 22.50,20.00 25.00,25.50 28.00,28.50 25.50,33.00 25.50,43.60 8.70,43.60" fill="#f0f6f4" stroke="none" stroke-width="0" />
<clipPath id="gp1"><polygon points="11.50,11.50 15.00,11.50 18.00,14.50 20.50,17.00 22.50,20.00 25.00,25.50 28.00,28.50 25.50,33.00 25.50,43.60 8.70,43.60"/><polygon points="12.50,8.80 18.00,8.80 21.00,11.00 24.00,13.50 27.50,16.50 31.00,21.00 33.00,26.00 36.00,29.00 33.00,33.00 32.50,43.60 25.50,43.60 25.50,33.00 28.00,28.50 25.00,25.50 22.50,20.00 20.50,17.00 18.00,14.50 15.00,11.50 11.50,11.50"/></clipPath>
<g clip-path="url(#gp1)">
<line x1="11.00" y1="8.50" x2="8.50" y2="43.60" stroke="#38504e" stroke-width="0.75" stroke-opacity="0.75"/>
<line x1="14.35" y1="8.41" x2="12.22" y2="43.60" stroke="#38504e" stroke-width="0.75" stroke-opacity="0.75"/>
<line x1="17.71" y1="8.32" x2="15.95" y2="43.60" stroke="#38504e" stroke-width="0.75" stroke-opacity="0.75"/>
<line x1="21.06" y1="8.24" x2="19.67" y2="43.60" stroke="#38504e" stroke-width="0.75" stroke-opacity="0.75"/>
<line x1="24.41" y1="8.15" x2="23.39" y2="43.60" stroke="#38504e" stroke-width="0.75" stroke-opacity="0.75"/>
<line x1="27.76" y1="8.06" x2="27.12" y2="43.60" stroke="#38504e" stroke-width="0.75" stroke-opacity="0.75"/>
<line x1="31.12" y1="7.97" x2="30.84" y2="43.60" stroke="#38504e" stroke-width="0.75" stroke-opacity="0.75"/>
<line x1="34.47" y1="7.88" x2="34.56" y2="43.60" stroke="#38504e" stroke-width="0.75" stroke-opacity="0.75"/>
<line x1="37.82" y1="7.79" x2="38.29" y2="43.60" stroke="#38504e" stroke-width="0.75" stroke-opacity="0.75"/>
<line x1="41.18" y1="7.71" x2="42.01" y2="43.60" stroke="#38504e" stroke-width="0.75" stroke-opacity="0.75"/>
<line x1="44.53" y1="7.62" x2="45.74" y2="43.60" stroke="#38504e" stroke-width="0.75" stroke-opacity="0.75"/>
<line x1="47.88" y1="7.53" x2="49.46" y2="43.60" stroke="#38504e" stroke-width="0.75" stroke-opacity="0.75"/>
<line x1="51.24" y1="7.44" x2="53.18" y2="43.60" stroke="#38504e" stroke-width="0.75" stroke-opacity="0.75"/>
<line x1="54.59" y1="7.35" x2="56.91" y2="43.60" stroke="#38504e" stroke-width="0.75" stroke-opacity="0.75"/>
<line x1="57.94" y1="7.26" x2="60.63" y2="43.60" stroke="#38504e" stroke-width="0.75" stroke-opacity="0.75"/>
<line x1="61.29" y1="7.18" x2="64.35" y2="43.60" stroke="#38504e" stroke-width="0.75" stroke-opacity="0.75"/>
<line x1="64.65" y1="7.09" x2="68.08" y2="43.60" stroke="#38504e" stroke-width="0.75" stroke-opacity="0.75"/>
<line x1="68.00" y1="7.00" x2="71.80" y2="43.60" stroke="#38504e" stroke-width="0.75" stroke-opacity="0.75"/>
<line x1="11.00" y1="8.50" x2="68.00" y2="7.00" stroke="#38504e" stroke-width="0.75" stroke-opacity="0.75"/>
<line x1="10.81" y1="11.20" x2="68.29" y2="9.82" stroke="#38504e" stroke-width="0.75" stroke-opacity="0.75"/>
<line x1="10.62" y1="13.90" x2="68.58" y2="12.63" stroke="#38504e" stroke-width="0.75" stroke-opacity="0.75"/>
<line x1="10.42" y1="16.60" x2="68.88" y2="15.45" stroke="#38504e" stroke-width="0.75" stroke-opacity="0.75"/>
<line x1="10.23" y1="19.30" x2="69.17" y2="18.26" stroke="#38504e" stroke-width="0.75" stroke-opacity="0.75"/>
<line x1="10.04" y1="22.00" x2="69.46" y2="21.08" stroke="#38504e" stroke-width="0.75" stroke-opacity="0.75"/>
<line x1="9.85" y1="24.70" x2="69.75" y2="23.89" stroke="#38504e" stroke-width="0.75" stroke-opacity="0.75"/>
<line x1="9.65" y1="27.40" x2="70.05" y2="26.71" stroke="#38504e" stroke-width="0.75" stroke-opacity="0.75"/>
<line x1="9.46" y1="30.10" x2="70.34" y2="29.52" stroke="#38504e" stroke-width="0.75" stroke-opacity="0.75"/>
<line x1="9.27" y1="32.80" x2="70.63" y2="32.34" stroke="#38504e" stroke-width="0.75" stroke-opacity="0.75"/>
<line x1="9.08" y1="35.50" x2="70.92" y2="35.15" stroke="#38504e" stroke-width="0.75" stroke-opacity="0.75"/>
<line x1="8.88" y1="38.20" x2="71.22" y2="37.97" stroke="#38504e" stroke-width="0.75" stroke-opacity="0.75"/>
<line x1="8.69" y1="40.90" x2="71.51" y2="40.78" stroke="#38504e" stroke-width="0.75" stroke-opacity="0.75"/>
<line x1="8.50" y1="43.60" x2="71.80" y2="43.60" stroke="#38504e" stroke-width="0.75" stroke-opacity="0.75"/>
</g>
<polygon points="11.50,11.50 15.00,11.50 18.00,14.50 20.50,17.00 22.50,20.00 25.00,25.50 28.00,28.50 25.50,33.00 25.50,43.60 8.70,43.60" fill="#ffffff" stroke="none" stroke-width="0" fill-opacity="0.3"/>
</g>
<polygon points="12.50,8.80 18.00,8.80 21.00,11.00 24.00,13.50 27.50,16.50 31.00,21.00 33.00,26.00 36.00,29.00 33.00,33.00 32.50,43.60 25.50,43.60 25.50,33.00 28.00,28.50 25.00,25.50 22.50,20.00 20.50,17.00 18.00,14.50 15.00,11.50 11.50,11.50" fill="none" stroke="#ecec1c" stroke-width="1.0"/>
<polygon points="11.50,11.50 15.00,11.50 18.00,14.50 20.50,17.00 22.50,20.00 25.00,25.50 28.00,28.50 25.50,33.00 25.50,43.60 8.70,43.60" fill="none" stroke="#ee3a1a" stroke-width="1.0"/>
<polygon points="65.52,6.27 69.95,38.91 68.56,39.10 72.60,43.60 75.30,38.19 73.91,38.38 69.48,5.73" fill="#e01c1c" stroke="none" stroke-width="0" />
<text x="69.71" y="22.32" font-family="Liberation Sans" font-size="2.6" font-weight="bold" fill="#ffd8d8" text-anchor="middle" dominant-baseline="central" transform="rotate(82.3 69.71 22.32)">Laser Power</text>
<polygon points="10.30,44.70 69.80,45.50 71.80,47.00 69.80,48.50 10.30,47.70" fill="#3a5cb4" stroke="none" stroke-width="0" />
<text x="41.05" y="46.70" font-family="Liberation Sans" font-size="2.6" font-weight="bold" fill="#e0e8ff" text-anchor="middle" dominant-baseline="central">Laser Scanning Speed</text>
<rect x="8.88" y="10.26" width="0.9" height="0.7" fill="#c0c8c0"/>
<rect x="8.62" y="13.77" width="0.9" height="0.7" fill="#c0c8c0"/>
<rect x="8.38" y="17.27" width="0.9" height="0.7" fill="#c0c8c0"/>
<rect x="8.12" y="20.79" width="0.9" height="0.7" fill="#c0c8c0"/>
<rect x="7.88" y="24.30" width="0.9" height="0.7" fill="#c0c8c0"/>
<rect x="7.62" y="27.81" width="0.9" height="0.7" fill="#c0c8c0"/>
<rect x="7.38" y="31.32" width="0.9" height="0.7" fill="#c0c8c0"/>
<rect x="7.12" y="34.83" width="0.9" height="0.7" fill="#c0c8c0"/>
<rect x="6.88" y="38.34" width="0.9" height="0.7" fill="#c0c8c0"/>
<rect x="6.62" y="41.84" width="0.9" height="0.7" fill="#c0c8c0"/>
<text x="51.3" y="15.4" font-family="Liberation Sans" font-size="4.3" font-weight="bold" fill="#f0f0f0" stroke="#f0f0f0" stroke-width="0.2" text-anchor="middle" dominant-baseline="central">Bad</text>
<text x="21" y="29" font-family="Liberation Sans" font-size="4.3" font-weight="bold" fill="#e02020" stroke="#e02020" stroke-width="0.2" text-anchor="middle" dominant-baseline="central">Good</text>
<text x="3.4" y="4.9" font-family="Liberation Sans" font-size="4.6" font-weight="bold" fill="#f4f4f4" dominant-baseline="central" textLength="10" lengthAdjust="spacingAndGlyphs">Glass</text>
</g>
<g transform="translate(175.3 71.1)" filter="url(#pblur)">
<rect x="0" y="0" width="78.3" height="57.4" fill="#3a463a"/>
<polygon points="7.199999999999999,4.4 72.3,4.4 77,52.8 5.4,53.4" fill="none" stroke="#7a8a7a" stroke-width="0.6" opacity="0.6"/>
<clipPath id="gc2"><polygon points="11.2,6.4 69.3,6.4 73,47.8 9.4,48.4"/></clipPath>
<polygon points="11.2,6.4 69.3,6.4 73,47.8 9.4,48.4" fill="#5a6a5c"/>
<g clip-path="url(#gc2)">
<line x1="11.20" y1="6.40" x2="9.40" y2="48.40" stroke="#b0c0b4" stroke-width="0.7" stroke-opacity="0.9"/>
<line x1="14.62" y1="6.40" x2="13.14" y2="48.36" stroke="#b0c0b4" stroke-width="0.7" stroke-opacity="0.9"/>
<line x1="18.04" y1="6.40" x2="16.88" y2="48.33" stroke="#b0c0b4" stroke-width="0.7" stroke-opacity="0.9"/>
<line x1="21.45" y1="6.40" x2="20.62" y2="48.29" stroke="#b0c0b4" stroke-width="0.7" stroke-opacity="0.9"/>
<line x1="24.87" y1="6.40" x2="24.36" y2="48.26" stroke="#b0c0b4" stroke-width="0.7" stroke-opacity="0.9"/>
<line x1="28.29" y1="6.40" x2="28.11" y2="48.22" stroke="#b0c0b4" stroke-width="0.7" stroke-opacity="0.9"/>
<line x1="31.71" y1="6.40" x2="31.85" y2="48.19" stroke="#b0c0b4" stroke-width="0.7" stroke-opacity="0.9"/>
<line x1="35.12" y1="6.40" x2="35.59" y2="48.15" stroke="#b0c0b4" stroke-width="0.7" stroke-opacity="0.9"/>
<line x1="38.54" y1="6.40" x2="39.33" y2="48.12" stroke="#b0c0b4" stroke-width="0.7" stroke-opacity="0.9"/>
<line x1="41.96" y1="6.40" x2="43.07" y2="48.08" stroke="#b0c0b4" stroke-width="0.7" stroke-opacity="0.9"/>
<line x1="45.38" y1="6.40" x2="46.81" y2="48.05" stroke="#b0c0b4" stroke-width="0.7" stroke-opacity="0.9"/>
<line x1="48.79" y1="6.40" x2="50.55" y2="48.01" stroke="#b0c0b4" stroke-width="0.7" stroke-opacity="0.9"/>
<line x1="52.21" y1="6.40" x2="54.29" y2="47.98" stroke="#b0c0b4" stroke-width="0.7" stroke-opacity="0.9"/>
<line x1="55.63" y1="6.40" x2="58.04" y2="47.94" stroke="#b0c0b4" stroke-width="0.7" stroke-opacity="0.9"/>
<line x1="59.05" y1="6.40" x2="61.78" y2="47.91" stroke="#b0c0b4" stroke-width="0.7" stroke-opacity="0.9"/>
<line x1="62.46" y1="6.40" x2="65.52" y2="47.87" stroke="#b0c0b4" stroke-width="0.7" stroke-opacity="0.9"/>
<line x1="65.88" y1="6.40" x2="69.26" y2="47.84" stroke="#b0c0b4" stroke-width="0.7" stroke-opacity="0.9"/>
<line x1="69.30" y1="6.40" x2="73.00" y2="47.80" stroke="#b0c0b4" stroke-width="0.7" stroke-opacity="0.9"/>
<line x1="11.20" y1="6.40" x2="69.30" y2="6.40" stroke="#b0c0b4" stroke-width="0.7" stroke-opacity="0.9"/>
<line x1="11.06" y1="9.63" x2="69.58" y2="9.58" stroke="#b0c0b4" stroke-width="0.7" stroke-opacity="0.9"/>
<line x1="10.92" y1="12.86" x2="69.87" y2="12.77" stroke="#b0c0b4" stroke-width="0.7" stroke-opacity="0.9"/>
<line x1="10.78" y1="16.09" x2="70.15" y2="15.95" stroke="#b0c0b4" stroke-width="0.7" stroke-opacity="0.9"/>
<line x1="10.65" y1="19.32" x2="70.44" y2="19.14" stroke="#b0c0b4" stroke-width="0.7" stroke-opacity="0.9"/>
<line x1="10.51" y1="22.55" x2="70.72" y2="22.32" stroke="#b0c0b4" stroke-width="0.7" stroke-opacity="0.9"/>
<line x1="10.37" y1="25.78" x2="71.01" y2="25.51" stroke="#b0c0b4" stroke-width="0.7" stroke-opacity="0.9"/>
<line x1="10.23" y1="29.02" x2="71.29" y2="28.69" stroke="#b0c0b4" stroke-width="0.7" stroke-opacity="0.9"/>
<line x1="10.09" y1="32.25" x2="71.58" y2="31.88" stroke="#b0c0b4" stroke-width="0.7" stroke-opacity="0.9"/>
<line x1="9.95" y1="35.48" x2="71.86" y2="35.06" stroke="#b0c0b4" stroke-width="0.7" stroke-opacity="0.9"/>
<line x1="9.82" y1="38.71" x2="72.15" y2="38.25" stroke="#b0c0b4" stroke-width="0.7" stroke-opacity="0.9"/>
<line x1="9.68" y1="41.94" x2="72.43" y2="41.43" stroke="#b0c0b4" stroke-width="0.7" stroke-opacity="0.9"/>
<line x1="9.54" y1="45.17" x2="72.72" y2="44.62" stroke="#b0c0b4" stroke-width="0.7" stroke-opacity="0.9"/>
<line x1="9.40" y1="48.40" x2="73.00" y2="47.80" stroke="#b0c0b4" stroke-width="0.7" stroke-opacity="0.9"/>
<polygon points="33.70,15.90 47.80,15.90 47.80,17.80 54.30,17.80 54.30,20.60 60.00,20.60 60.90,47.80 45.90,47.80 45.90,33.70 33.70,33.70" fill="#c4c4a4" stroke="none" stroke-width="0" />
<polygon points="14.00,7.10 30.90,7.10 30.90,9.40 33.70,10.00 33.70,13.10 40.30,13.10 40.30,15.90 33.70,15.90 33.70,33.70 45.90,33.70 45.90,48.00 10.20,48.30" fill="#f0f6f4" stroke="none" stroke-width="0" />
<clipPath id="gp2"><polygon points="14.00,7.10 30.90,7.10 30.90,9.40 33.70,10.00 33.70,13.10 40.30,13.10 40.30,15.90 33.70,15.90 33.70,33.70 45.90,33.70 45.90,48.00 10.20,48.30"/><polygon points="33.70,15.90 47.80,15.90 47.80,17.80 54.30,17.80 54.30,20.60 60.00,20.60 60.90,47.80 45.90,47.80 45.90,33.70 33.70,33.70"/></clipPath>
<g clip-path="url(#gp2)">
<line x1="11.20" y1="6.40" x2="9.40" y2="48.40" stroke="#44544a" stroke-width="0.75" stroke-opacity="0.75"/>
<line x1="14.62" y1="6.40" x2="13.14" y2="48.36" stroke="#44544a" stroke-width="0.75" stroke-opacity="0.75"/>
<line x1="18.04" y1="6.40" x2="16.88" y2="48.33" stroke="#44544a" stroke-width="0.75" stroke-opacity="0.75"/>
<line x1="21.45" y1="6.40" x2="20.62" y2="48.29" stroke="#44544a" stroke-width="0.75" stroke-opacity="0.75"/>
<line x1="24.87" y1="6.40" x2="24.36" y2="48.26" stroke="#44544a" stroke-width="0.75" stroke-opacity="0.75"/>
<line x1="28.29" y1="6.40" x2="28.11" y2="48.22" stroke="#44544a" stroke-width="0.75" stroke-opacity="0.75"/>
<line x1="31.71" y1="6.40" x2="31.85" y2="48.19" stroke="#44544a" stroke-width="0.75" stroke-opacity="0.75"/>
<line x1="35.12" y1="6.40" x2="35.59" y2="48.15" stroke="#44544a" stroke-width="0.75" stroke-opacity="0.75"/>
<line x1="38.54" y1="6.40" x2="39.33" y2="48.12" stroke="#44544a" stroke-width="0.75" stroke-opacity="0.75"/>
<line x1="41.96" y1="6.40" x2="43.07" y2="48.08" stroke="#44544a" stroke-width="0.75" stroke-opacity="0.75"/>
<line x1="45.38" y1="6.40" x2="46.81" y2="48.05" stroke="#44544a" stroke-width="0.75" stroke-opacity="0.75"/>
<line x1="48.79" y1="6.40" x2="50.55" y2="48.01" stroke="#44544a" stroke-width="0.75" stroke-opacity="0.75"/>
<line x1="52.21" y1="6.40" x2="54.29" y2="47.98" stroke="#44544a" stroke-width="0.75" stroke-opacity="0.75"/>
<line x1="55.63" y1="6.40" x2="58.04" y2="47.94" stroke="#44544a" stroke-width="0.75" stroke-opacity="0.75"/>
<line x1="59.05" y1="6.40" x2="61.78" y2="47.91" stroke="#44544a" stroke-width="0.75" stroke-opacity="0.75"/>
<line x1="62.46" y1="6.40" x2="65.52" y2="47.87" stroke="#44544a" stroke-width="0.75" stroke-opacity="0.75"/>
<line x1="65.88" y1="6.40" x2="69.26" y2="47.84" stroke="#44544a" stroke-width="0.75" stroke-opacity="0.75"/>
<line x1="69.30" y1="6.40" x2="73.00" y2="47.80" stroke="#44544a" stroke-width="0.75" stroke-opacity="0.75"/>
<line x1="11.20" y1="6.40" x2="69.30" y2="6.40" stroke="#44544a" stroke-width="0.75" stroke-opacity="0.75"/>
<line x1="11.06" y1="9.63" x2="69.58" y2="9.58" stroke="#44544a" stroke-width="0.75" stroke-opacity="0.75"/>
<line x1="10.92" y1="12.86" x2="69.87" y2="12.77" stroke="#44544a" stroke-width="0.75" stroke-opacity="0.75"/>
<line x1="10.78" y1="16.09" x2="70.15" y2="15.95" stroke="#44544a" stroke-width="0.75" stroke-opacity="0.75"/>
<line x1="10.65" y1="19.32" x2="70.44" y2="19.14" stroke="#44544a" stroke-width="0.75" stroke-opacity="0.75"/>
<line x1="10.51" y1="22.55" x2="70.72" y2="22.32" stroke="#44544a" stroke-width="0.75" stroke-opacity="0.75"/>
<line x1="10.37" y1="25.78" x2="71.01" y2="25.51" stroke="#44544a" stroke-width="0.75" stroke-opacity="0.75"/>
<line x1="10.23" y1="29.02" x2="71.29" y2="28.69" stroke="#44544a" stroke-width="0.75" stroke-opacity="0.75"/>
<line x1="10.09" y1="32.25" x2="71.58" y2="31.88" stroke="#44544a" stroke-width="0.75" stroke-opacity="0.75"/>
<line x1="9.95" y1="35.48" x2="71.86" y2="35.06" stroke="#44544a" stroke-width="0.75" stroke-opacity="0.75"/>
<line x1="9.82" y1="38.71" x2="72.15" y2="38.25" stroke="#44544a" stroke-width="0.75" stroke-opacity="0.75"/>
<line x1="9.68" y1="41.94" x2="72.43" y2="41.43" stroke="#44544a" stroke-width="0.75" stroke-opacity="0.75"/>
<line x1="9.54" y1="45.17" x2="72.72" y2="44.62" stroke="#44544a" stroke-width="0.75" stroke-opacity="0.75"/>
<line x1="9.40" y1="48.40" x2="73.00" y2="47.80" stroke="#44544a" stroke-width="0.75" stroke-opacity="0.75"/>
</g>
<polygon points="14.00,7.10 30.90,7.10 30.90,9.40 33.70,10.00 33.70,13.10 40.30,13.10 40.30,15.90 33.70,15.90 33.70,33.70 45.90,33.70 45.90,48.00 10.20,48.30" fill="#ffffff" stroke="none" stroke-width="0" fill-opacity="0.3"/>
</g>
<polygon points="33.70,15.90 47.80,15.90 47.80,17.80 54.30,17.80 54.30,20.60 60.00,20.60 60.90,47.80 45.90,47.80 45.90,33.70 33.70,33.70" fill="none" stroke="#ecec1c" stroke-width="1.0"/>
<polygon points="14.00,7.10 30.90,7.10 30.90,9.40 33.70,10.00 33.70,13.10 40.30,13.10 40.30,15.90 33.70,15.90 33.70,33.70 45.90,33.70 45.90,48.00 10.20,48.30" fill="none" stroke="#ee3a1a" stroke-width="1.0"/>
<polygon points="67.31,8.64 71.41,42.08 70.02,42.25 74.00,46.80 76.77,41.42 75.38,41.59 71.29,8.16" fill="#e01c1c" stroke="none" stroke-width="0" />
<text x="71.35" y="25.12" font-family="Liberation Sans" font-size="2.6" font-weight="bold" fill="#ffd8d8" text-anchor="middle" dominant-baseline="central" transform="rotate(83.0 71.35 25.12)">Laser Power</text>
<polygon points="11.20,49.10 70.00,50.00 72.00,51.50 70.00,53.00 11.20,52.10" fill="#3a5cb4" stroke="none" stroke-width="0" />
<text x="41.60" y="51.15" font-family="Liberation Sans" font-size="2.6" font-weight="bold" fill="#e0e8ff" text-anchor="middle" dominant-baseline="central">Laser Scanning Speed</text>
<rect x="9.11" y="8.50" width="0.9" height="0.7" fill="#c0c8c0"/>
<rect x="8.93" y="12.70" width="0.9" height="0.7" fill="#c0c8c0"/>
<rect x="8.75" y="16.90" width="0.9" height="0.7" fill="#c0c8c0"/>
<rect x="8.57" y="21.10" width="0.9" height="0.7" fill="#c0c8c0"/>
<rect x="8.39" y="25.30" width="0.9" height="0.7" fill="#c0c8c0"/>
<rect x="8.21" y="29.50" width="0.9" height="0.7" fill="#c0c8c0"/>
<rect x="8.03" y="33.70" width="0.9" height="0.7" fill="#c0c8c0"/>
<rect x="7.85" y="37.90" width="0.9" height="0.7" fill="#c0c8c0"/>
<rect x="7.67" y="42.10" width="0.9" height="0.7" fill="#c0c8c0"/>
<rect x="7.49" y="46.30" width="0.9" height="0.7" fill="#c0c8c0"/>
<text x="56.2" y="11.2" font-family="Liberation Sans" font-size="4.3" font-weight="bold" fill="#f0f0f0" stroke="#f0f0f0" stroke-width="0.2" text-anchor="middle" dominant-baseline="central">Bad</text>
<text x="22.5" y="27.2" font-family="Liberation Sans" font-size="4.3" font-weight="bold" fill="#e02020" stroke="#e02020" stroke-width="0.2" text-anchor="middle" dominant-baseline="central">Good</text>
<text x="49.6" y="26.2" font-family="Liberation Sans" font-size="4.3" font-weight="bold" fill="#f0e020" stroke="#f0e020" stroke-width="0.2" text-anchor="middle" dominant-baseline="central">Partial</text>
<text x="0.9" y="4.9" font-family="Liberation Sans" font-size="4.6" font-weight="bold" fill="#f4f4f4" dominant-baseline="central" textLength="27" lengthAdjust="spacingAndGlyphs">PI - Drawer</text>
</g>
<g transform="translate(255.1 71.1)" filter="url(#pblur)">
<rect x="0" y="0" width="79.3" height="57.4" fill="#2c3e3e"/>
<polygon points="10,5.5 70.3,5.5 76,54.5 5.300000000000001,53.6" fill="none" stroke="#7a8a7a" stroke-width="0.6" opacity="0.6"/>
<clipPath id="gc3"><polygon points="14,7.5 67.3,7.5 72,49.5 9.3,48.6"/></clipPath>
<polygon points="14,7.5 67.3,7.5 72,49.5 9.3,48.6" fill="#4a6260"/>
<g clip-path="url(#gc3)">
<polygon points="10.40,36.40 18.40,36.40 18.40,38.60 24.10,40.20 25.70,42.60 29.70,44.20 34.60,46.60 36.20,49.20 9.30,49.00" fill="#3e3c44" stroke="none" stroke-width="0" />
<line x1="14.00" y1="7.50" x2="9.30" y2="48.60" stroke="#a4bcb8" stroke-width="0.7" stroke-opacity="0.9"/>
<line x1="17.14" y1="7.50" x2="12.99" y2="48.65" stroke="#a4bcb8" stroke-width="0.7" stroke-opacity="0.9"/>
<line x1="20.27" y1="7.50" x2="16.68" y2="48.71" stroke="#a4bcb8" stroke-width="0.7" stroke-opacity="0.9"/>
<line x1="23.41" y1="7.50" x2="20.36" y2="48.76" stroke="#a4bcb8" stroke-width="0.7" stroke-opacity="0.9"/>
<line x1="26.54" y1="7.50" x2="24.05" y2="48.81" stroke="#a4bcb8" stroke-width="0.7" stroke-opacity="0.9"/>
<line x1="29.68" y1="7.50" x2="27.74" y2="48.86" stroke="#a4bcb8" stroke-width="0.7" stroke-opacity="0.9"/>
<line x1="32.81" y1="7.50" x2="31.43" y2="48.92" stroke="#a4bcb8" stroke-width="0.7" stroke-opacity="0.9"/>
<line x1="35.95" y1="7.50" x2="35.12" y2="48.97" stroke="#a4bcb8" stroke-width="0.7" stroke-opacity="0.9"/>
<line x1="39.08" y1="7.50" x2="38.81" y2="49.02" stroke="#a4bcb8" stroke-width="0.7" stroke-opacity="0.9"/>
<line x1="42.22" y1="7.50" x2="42.49" y2="49.08" stroke="#a4bcb8" stroke-width="0.7" stroke-opacity="0.9"/>
<line x1="45.35" y1="7.50" x2="46.18" y2="49.13" stroke="#a4bcb8" stroke-width="0.7" stroke-opacity="0.9"/>
<line x1="48.49" y1="7.50" x2="49.87" y2="49.18" stroke="#a4bcb8" stroke-width="0.7" stroke-opacity="0.9"/>
<line x1="51.62" y1="7.50" x2="53.56" y2="49.24" stroke="#a4bcb8" stroke-width="0.7" stroke-opacity="0.9"/>
<line x1="54.76" y1="7.50" x2="57.25" y2="49.29" stroke="#a4bcb8" stroke-width="0.7" stroke-opacity="0.9"/>
<line x1="57.89" y1="7.50" x2="60.94" y2="49.34" stroke="#a4bcb8" stroke-width="0.7" stroke-opacity="0.9"/>
<line x1="61.03" y1="7.50" x2="64.62" y2="49.39" stroke="#a4bcb8" stroke-width="0.7" stroke-opacity="0.9"/>
<line x1="64.16" y1="7.50" x2="68.31" y2="49.45" stroke="#a4bcb8" stroke-width="0.7" stroke-opacity="0.9"/>
<line x1="67.30" y1="7.50" x2="72.00" y2="49.50" stroke="#a4bcb8" stroke-width="0.7" stroke-opacity="0.9"/>
<line x1="14.00" y1="7.50" x2="67.30" y2="7.50" stroke="#a4bcb8" stroke-width="0.7" stroke-opacity="0.9"/>
<line x1="13.64" y1="10.66" x2="67.66" y2="10.73" stroke="#a4bcb8" stroke-width="0.7" stroke-opacity="0.9"/>
<line x1="13.28" y1="13.82" x2="68.02" y2="13.96" stroke="#a4bcb8" stroke-width="0.7" stroke-opacity="0.9"/>
<line x1="12.92" y1="16.98" x2="68.38" y2="17.19" stroke="#a4bcb8" stroke-width="0.7" stroke-opacity="0.9"/>
<line x1="12.55" y1="20.15" x2="68.75" y2="20.42" stroke="#a4bcb8" stroke-width="0.7" stroke-opacity="0.9"/>
<line x1="12.19" y1="23.31" x2="69.11" y2="23.65" stroke="#a4bcb8" stroke-width="0.7" stroke-opacity="0.9"/>
<line x1="11.83" y1="26.47" x2="69.47" y2="26.88" stroke="#a4bcb8" stroke-width="0.7" stroke-opacity="0.9"/>
<line x1="11.47" y1="29.63" x2="69.83" y2="30.12" stroke="#a4bcb8" stroke-width="0.7" stroke-opacity="0.9"/>
<line x1="11.11" y1="32.79" x2="70.19" y2="33.35" stroke="#a4bcb8" stroke-width="0.7" stroke-opacity="0.9"/>
<line x1="10.75" y1="35.95" x2="70.55" y2="36.58" stroke="#a4bcb8" stroke-width="0.7" stroke-opacity="0.9"/>
<line x1="10.38" y1="39.12" x2="70.92" y2="39.81" stroke="#a4bcb8" stroke-width="0.7" stroke-opacity="0.9"/>
<line x1="10.02" y1="42.28" x2="71.28" y2="43.04" stroke="#a4bcb8" stroke-width="0.7" stroke-opacity="0.9"/>
<line x1="9.66" y1="45.44" x2="71.64" y2="46.27" stroke="#a4bcb8" stroke-width="0.7" stroke-opacity="0.9"/>
<line x1="9.30" y1="48.60" x2="72.00" y2="49.50" stroke="#a4bcb8" stroke-width="0.7" stroke-opacity="0.9"/>
<polygon points="36.20,18.40 38.60,19.20 48.30,24.90 56.00,30.80 61.70,36.40 65.40,43.90 68.20,49.30 36.20,49.20 34.60,46.60 29.70,44.20 29.70,21.60 36.20,21.60" fill="#aeb094" stroke="none" stroke-width="0" />
<polygon points="14.40,8.70 18.40,8.70 18.40,10.00 22.50,10.00 26.50,11.20 28.00,13.00 31.40,14.40 33.80,16.00 36.20,18.40 36.20,21.60 29.70,21.60 29.70,36.40 10.40,36.40" fill="#f0f6f4" stroke="none" stroke-width="0" />
<clipPath id="gp3"><polygon points="14.40,8.70 18.40,8.70 18.40,10.00 22.50,10.00 26.50,11.20 28.00,13.00 31.40,14.40 33.80,16.00 36.20,18.40 36.20,21.60 29.70,21.60 29.70,36.40 10.40,36.40"/><polygon points="36.20,18.40 38.60,19.20 48.30,24.90 56.00,30.80 61.70,36.40 65.40,43.90 68.20,49.30 36.20,49.20 34.60,46.60 29.70,44.20 29.70,21.60 36.20,21.60"/></clipPath>
<g clip-path="url(#gp3)">
<line x1="14.00" y1="7.50" x2="9.30" y2="48.60" stroke="#38504e" stroke-width="0.75" stroke-opacity="0.75"/>
<line x1="17.14" y1="7.50" x2="12.99" y2="48.65" stroke="#38504e" stroke-width="0.75" stroke-opacity="0.75"/>
<line x1="20.27" y1="7.50" x2="16.68" y2="48.71" stroke="#38504e" stroke-width="0.75" stroke-opacity="0.75"/>
<line x1="23.41" y1="7.50" x2="20.36" y2="48.76" stroke="#38504e" stroke-width="0.75" stroke-opacity="0.75"/>
<line x1="26.54" y1="7.50" x2="24.05" y2="48.81" stroke="#38504e" stroke-width="0.75" stroke-opacity="0.75"/>
<line x1="29.68" y1="7.50" x2="27.74" y2="48.86" stroke="#38504e" stroke-width="0.75" stroke-opacity="0.75"/>
<line x1="32.81" y1="7.50" x2="31.43" y2="48.92" stroke="#38504e" stroke-width="0.75" stroke-opacity="0.75"/>
<line x1="35.95" y1="7.50" x2="35.12" y2="48.97" stroke="#38504e" stroke-width="0.75" stroke-opacity="0.75"/>
<line x1="39.08" y1="7.50" x2="38.81" y2="49.02" stroke="#38504e" stroke-width="0.75" stroke-opacity="0.75"/>
<line x1="42.22" y1="7.50" x2="42.49" y2="49.08" stroke="#38504e" stroke-width="0.75" stroke-opacity="0.75"/>
<line x1="45.35" y1="7.50" x2="46.18" y2="49.13" stroke="#38504e" stroke-width="0.75" stroke-opacity="0.75"/>
<line x1="48.49" y1="7.50" x2="49.87" y2="49.18" stroke="#38504e" stroke-width="0.75" stroke-opacity="0.75"/>
<line x1="51.62" y1="7.50" x2="53.56" y2="49.24" stroke="#38504e" stroke-width="0.75" stroke-opacity="0.75"/>
<line x1="54.76" y1="7.50" x2="57.25" y2="49.29" stroke="#38504e" stroke-width="0.75" stroke-opacity="0.75"/>
<line x1="57.89" y1="7.50" x2="60.94" y2="49.34" stroke="#38504e" stroke-width="0.75" stroke-opacity="0.75"/>
<line x1="61.03" y1="7.50" x2="64.62" y2="49.39" stroke="#38504e" stroke-width="0.75" stroke-opacity="0.75"/>
<line x1="64.16" y1="7.50" x2="68.31" y2="49.45" stroke="#38504e" stroke-width="0.75" stroke-opacity="0.75"/>
<line x1="67.30" y1="7.50" x2="72.00" y2="49.50" stroke="#38504e" stroke-width="0.75" stroke-opacity="0.75"/>
<line x1="14.00" y1="7.50" x2="67.30" y2="7.50" stroke="#38504e" stroke-width="0.75" stroke-opacity="0.75"/>
<line x1="13.64" y1="10.66" x2="67.66" y2="10.73" stroke="#38504e" stroke-width="0.75" stroke-opacity="0.75"/>
<line x1="13.28" y1="13.82" x2="68.02" y2="13.96" stroke="#38504e" stroke-width="0.75" stroke-opacity="0.75"/>
<line x1="12.92" y1="16.98" x2="68.38" y2="17.19" stroke="#38504e" stroke-width="0.75" stroke-opacity="0.75"/>
<line x1="12.55" y1="20.15" x2="68.75" y2="20.42" stroke="#38504e" stroke-width="0.75" stroke-opacity="0.75"/>
<line x1="12.19" y1="23.31" x2="69.11" y2="23.65" stroke="#38504e" stroke-width="0.75" stroke-opacity="0.75"/>
<line x1="11.83" y1="26.47" x2="69.47" y2="26.88" stroke="#38504e" stroke-width="0.75" stroke-opacity="0.75"/>
<line x1="11.47" y1="29.63" x2="69.83" y2="30.12" stroke="#38504e" stroke-width="0.75" stroke-opacity="0.75"/>
<line x1="11.11" y1="32.79" x2="70.19" y2="33.35" stroke="#38504e" stroke-width="0.75" stroke-opacity="0.75"/>
<line x1="10.75" y1="35.95" x2="70.55" y2="36.58" stroke="#38504e" stroke-width="0.75" stroke-opacity="0.75"/>
<line x1="10.38" y1="39.12" x2="70.92" y2="39.81" stroke="#38504e" stroke-width="0.75" stroke-opacity="0.75"/>
<line x1="10.02" y1="42.28" x2="71.28" y2="43.04" stroke="#38504e" stroke-width="0.75" stroke-opacity="0.75"/>
<line x1="9.66" y1="45.44" x2="71.64" y2="46.27" stroke="#38504e" stroke-width="0.75" stroke-opacity="0.75"/>
<line x1="9.30" y1="48.60" x2="72.00" y2="49.50" stroke="#38504e" stroke-width="0.75" stroke-opacity="0.75"/>
</g>
<polygon points="14.40,8.70 18.40,8.70 18.40,10.00 22.50,10.00 26.50,11.20 28.00,13.00 31.40,14.40 33.80,16.00 36.20,18.40 36.20,21.60 29.70,21.60 29.70,36.40 10.40,36.40" fill="#ffffff" stroke="none" stroke-width="0" fill-opacity="0.3"/>
</g>
<polygon points="36.20,18.40 38.60,19.20 48.30,24.90 56.00,30.80 61.70,36.40 65.40,43.90 68.20,49.30 36.20,49.20 34.60,46.60 29.70,44.20 29.70,21.60 36.20,21.60" fill="none" stroke="#ecec1c" stroke-width="1.0"/>
<polygon points="14.40,8.70 18.40,8.70 18.40,10.00 22.50,10.00 26.50,11.20 28.00,13.00 31.40,14.40 33.80,16.00 36.20,18.40 36.20,21.60 29.70,21.60 29.70,36.40 10.40,36.40" fill="none" stroke="#ee3a1a" stroke-width="1.0"/>
<polygon points="10.40,36.40 18.40,36.40 18.40,38.60 24.10,40.20 25.70,42.60 29.70,44.20 34.60,46.60 36.20,49.20 9.30,49.00" fill="none" stroke="#3030c0" stroke-width="0.9"/>
<polygon points="65.32,9.60 70.18,42.05 68.80,42.26 72.90,46.70 75.52,41.25 74.14,41.46 69.28,9.00" fill="#e01c1c" stroke="none" stroke-width="0" />
<text x="69.73" y="25.53" font-family="Liberation Sans" font-size="2.6" font-weight="bold" fill="#ffd8d8" text-anchor="middle" dominant-baseline="central" transform="rotate(81.5 69.73 25.53)">Laser Power</text>
<polygon points="20.60,49.90 70.90,50.80 72.90,52.30 70.90,53.80 20.60,52.90" fill="#3a5cb4" stroke="none" stroke-width="0" />
<text x="46.75" y="51.95" font-family="Liberation Sans" font-size="2.6" font-weight="bold" fill="#e0e8ff" text-anchor="middle" dominant-baseline="central">Laser Scanning Speed</text>
<rect x="11.77" y="9.55" width="0.9" height="0.7" fill="#c0c8c0"/>
<rect x="11.29" y="13.66" width="0.9" height="0.7" fill="#c0c8c0"/>
<rect x="10.82" y="17.77" width="0.9" height="0.7" fill="#c0c8c0"/>
<rect x="10.36" y="21.88" width="0.9" height="0.7" fill="#c0c8c0"/>
<rect x="9.88" y="26.00" width="0.9" height="0.7" fill="#c0c8c0"/>
<rect x="9.41" y="30.11" width="0.9" height="0.7" fill="#c0c8c0"/>
<rect x="8.95" y="34.22" width="0.9" height="0.7" fill="#c0c8c0"/>
<rect x="8.48" y="38.33" width="0.9" height="0.7" fill="#c0c8c0"/>
<rect x="8.01" y="42.44" width="0.9" height="0.7" fill="#c0c8c0"/>
<rect x="7.54" y="46.55" width="0.9" height="0.7" fill="#c0c8c0"/>
<text x="56" y="14" font-family="Liberation Sans" font-size="4.3" font-weight="bold" fill="#f0f0f0" stroke="#f0f0f0" stroke-width="0.2" text-anchor="middle" dominant-baseline="central">Bad</text>
<text x="20.6" y="23.4" font-family="Liberation Sans" font-size="4.3" font-weight="bold" fill="#e02020" stroke="#e02020" stroke-width="0.2" text-anchor="middle" dominant-baseline="central">Good</text>
<text x="45.8" y="39.3" font-family="Liberation Sans" font-size="4.3" font-weight="bold" fill="#f0e020" stroke="#f0e020" stroke-width="0.2" text-anchor="middle" dominant-baseline="central">Partial</text>
<text x="17.8" y="43.9" font-family="Liberation Sans" font-size="4.3" font-weight="bold" fill="#f0f0f0" stroke="#f0f0f0" stroke-width="0.2" text-anchor="middle" dominant-baseline="central">Bad</text>
<text x="2.8" y="4.9" font-family="Liberation Sans" font-size="4.6" font-weight="bold" fill="#f4f4f4" dominant-baseline="central" textLength="8.8" lengthAdjust="spacingAndGlyphs">PET</text>
</g>
<rect x="388.2" y="17.7" width="149.00000000000006" height="108.89999999999999" fill="none" stroke="#222" stroke-width="1"/>
<line x1="388.20" y1="126.60" x2="388.20" y2="128.10" stroke="#222" stroke-width="0.9" />
<line x1="388.20" y1="17.70" x2="388.20" y2="19.20" stroke="#222" stroke-width="0.9" />
<line x1="406.82" y1="126.60" x2="406.82" y2="129.10" stroke="#222" stroke-width="0.9" />
<line x1="406.82" y1="17.70" x2="406.82" y2="20.20" stroke="#222" stroke-width="0.9" />
<line x1="425.45" y1="126.60" x2="425.45" y2="128.10" stroke="#222" stroke-width="0.9" />
<line x1="425.45" y1="17.70" x2="425.45" y2="19.20" stroke="#222" stroke-width="0.9" />
<line x1="444.07" y1="126.60" x2="444.07" y2="129.10" stroke="#222" stroke-width="0.9" />
<line x1="444.07" y1="17.70" x2="444.07" y2="20.20" stroke="#222" stroke-width="0.9" />
<line x1="462.70" y1="126.60" x2="462.70" y2="128.10" stroke="#222" stroke-width="0.9" />
<line x1="462.70" y1="17.70" x2="462.70" y2="19.20" stroke="#222" stroke-width="0.9" />
<line x1="481.33" y1="126.60" x2="481.33" y2="129.10" stroke="#222" stroke-width="0.9" />
<line x1="481.33" y1="17.70" x2="481.33" y2="20.20" stroke="#222" stroke-width="0.9" />
<line x1="499.95" y1="126.60" x2="499.95" y2="128.10" stroke="#222" stroke-width="0.9" />
<line x1="499.95" y1="17.70" x2="499.95" y2="19.20" stroke="#222" stroke-width="0.9" />
<line x1="518.58" y1="126.60" x2="518.58" y2="129.10" stroke="#222" stroke-width="0.9" />
<line x1="518.58" y1="17.70" x2="518.58" y2="20.20" stroke="#222" stroke-width="0.9" />
<line x1="537.20" y1="126.60" x2="537.20" y2="128.10" stroke="#222" stroke-width="0.9" />
<line x1="537.20" y1="17.70" x2="537.20" y2="19.20" stroke="#222" stroke-width="0.9" />
<line x1="388.20" y1="126.60" x2="385.70" y2="126.60" stroke="#222" stroke-width="0.9" />
<line x1="537.20" y1="126.60" x2="534.70" y2="126.60" stroke="#222" stroke-width="0.9" />
<line x1="388.20" y1="114.50" x2="386.70" y2="114.50" stroke="#222" stroke-width="0.9" />
<line x1="537.20" y1="114.50" x2="535.70" y2="114.50" stroke="#222" stroke-width="0.9" />
<line x1="388.20" y1="102.40" x2="385.70" y2="102.40" stroke="#222" stroke-width="0.9" />
<line x1="537.20" y1="102.40" x2="534.70" y2="102.40" stroke="#222" stroke-width="0.9" />
<line x1="388.20" y1="90.30" x2="386.70" y2="90.30" stroke="#222" stroke-width="0.9" />
<line x1="537.20" y1="90.30" x2="535.70" y2="90.30" stroke="#222" stroke-width="0.9" />
<line x1="388.20" y1="78.20" x2="385.70" y2="78.20" stroke="#222" stroke-width="0.9" />
<line x1="537.20" y1="78.20" x2="534.70" y2="78.20" stroke="#222" stroke-width="0.9" />
<line x1="388.20" y1="66.10" x2="386.70" y2="66.10" stroke="#222" stroke-width="0.9" />
<line x1="537.20" y1="66.10" x2="535.70" y2="66.10" stroke="#222" stroke-width="0.9" />
<line x1="388.20" y1="54.00" x2="385.70" y2="54.00" stroke="#222" stroke-width="0.9" />
<line x1="537.20" y1="54.00" x2="534.70" y2="54.00" stroke="#222" stroke-width="0.9" />
<line x1="388.20" y1="41.90" x2="386.70" y2="41.90" stroke="#222" stroke-width="0.9" />
<line x1="537.20" y1="41.90" x2="535.70" y2="41.90" stroke="#222" stroke-width="0.9" />
<line x1="388.20" y1="29.80" x2="385.70" y2="29.80" stroke="#222" stroke-width="0.9" />
<line x1="537.20" y1="29.80" x2="534.70" y2="29.80" stroke="#222" stroke-width="0.9" />
<line x1="388.20" y1="17.70" x2="386.70" y2="17.70" stroke="#222" stroke-width="0.9" />
<line x1="537.20" y1="17.70" x2="535.70" y2="17.70" stroke="#222" stroke-width="0.9" />
<text x="384.20" y="126.60" font-family="Liberation Sans" font-size="7.6" font-weight="bold" font-style="normal" fill="#1a1a1a" text-anchor="end" dominant-baseline="central" stroke="#1a1a1a" stroke-width="0.2">0</text>
<text x="384.20" y="102.40" font-family="Liberation Sans" font-size="7.6" font-weight="bold" font-style="normal" fill="#1a1a1a" text-anchor="end" dominant-baseline="central" stroke="#1a1a1a" stroke-width="0.2">10</text>
<text x="384.20" y="78.20" font-family="Liberation Sans" font-size="7.6" font-weight="bold" font-style="normal" fill="#1a1a1a" text-anchor="end" dominant-baseline="central" stroke="#1a1a1a" stroke-width="0.2">20</text>
<text x="384.20" y="54.00" font-family="Liberation Sans" font-size="7.6" font-weight="bold" font-style="normal" fill="#1a1a1a" text-anchor="end" dominant-baseline="central" stroke="#1a1a1a" stroke-width="0.2">30</text>
<text x="384.20" y="29.80" font-family="Liberation Sans" font-size="7.6" font-weight="bold" font-style="normal" fill="#1a1a1a" text-anchor="end" dominant-baseline="central" stroke="#1a1a1a" stroke-width="0.2">40</text>
<text x="406.82" y="133.20" font-family="Liberation Sans" font-size="7.6" font-weight="bold" font-style="normal" fill="#1a1a1a" text-anchor="middle" dominant-baseline="central" stroke="#1a1a1a" stroke-width="0.2">10</text>
<text x="444.07" y="133.20" font-family="Liberation Sans" font-size="7.6" font-weight="bold" font-style="normal" fill="#1a1a1a" text-anchor="middle" dominant-baseline="central" stroke="#1a1a1a" stroke-width="0.2">20</text>
<text x="481.33" y="133.20" font-family="Liberation Sans" font-size="7.6" font-weight="bold" font-style="normal" fill="#1a1a1a" text-anchor="middle" dominant-baseline="central" stroke="#1a1a1a" stroke-width="0.2">30</text>
<text x="518.58" y="133.20" font-family="Liberation Sans" font-size="7.6" font-weight="bold" font-style="normal" fill="#1a1a1a" text-anchor="middle" dominant-baseline="central" stroke="#1a1a1a" stroke-width="0.2">40</text>
<text x="368.70" y="74.30" font-family="Liberation Sans" font-size="8.6" font-weight="bold" font-style="normal" fill="#1a1a1a" text-anchor="middle" dominant-baseline="central" textLength="95" lengthAdjust="spacingAndGlyphs" transform="rotate(-90 368.70 74.30)" stroke="#1a1a1a" stroke-width="0.2">Sheet resistance (Ω/sq)</text>
<text x="413.5" y="147.4" font-family="Liberation Sans" font-size="9" font-weight="bold" fill="#1a1a1a" stroke="#1a1a1a" stroke-width="0.2" dominant-baseline="central" textLength="99" lengthAdjust="spacingAndGlyphs">Laser fluence <tspan font-style="italic">F</tspan>(mJ/cm<tspan font-size="6" dy="-3">2</tspan><tspan dy="3">)</tspan></text>
<polyline points="462.70,75.78 481.33,101.92 499.95,122.97 518.58,76.26" fill="none" stroke="#111" stroke-width="1.3" />
<polyline points="518.58,76.26 537.20,45.29" fill="none" stroke="#111" stroke-width="1.6" stroke-dasharray="1.2 1.2"/>
<line x1="462.70" y1="69.73" x2="462.70" y2="81.83" stroke="#111" stroke-width="0.9" />
<line x1="461.20" y1="69.73" x2="464.20" y2="69.73" stroke="#111" stroke-width="0.9" />
<line x1="461.20" y1="81.83" x2="464.20" y2="81.83" stroke="#111" stroke-width="0.9" />
<rect x="460.80" y="73.88" width="3.80" height="3.80" fill="#111"/>
<line x1="481.33" y1="96.35" x2="481.33" y2="107.48" stroke="#111" stroke-width="0.9" />
<line x1="479.83" y1="96.35" x2="482.83" y2="96.35" stroke="#111" stroke-width="0.9" />
<line x1="479.83" y1="107.48" x2="482.83" y2="107.48" stroke="#111" stroke-width="0.9" />
<rect x="479.43" y="100.02" width="3.80" height="3.80" fill="#111"/>
<rect x="498.05" y="121.07" width="3.80" height="3.80" fill="#111"/>
<line x1="518.58" y1="69.00" x2="518.58" y2="83.52" stroke="#111" stroke-width="0.9" />
<line x1="517.08" y1="69.00" x2="520.08" y2="69.00" stroke="#111" stroke-width="0.9" />
<line x1="517.08" y1="83.52" x2="520.08" y2="83.52" stroke="#111" stroke-width="0.9" />
<rect x="516.68" y="74.36" width="3.80" height="3.80" fill="#111"/>
<polyline points="425.45,60.53 444.07,107.48 462.70,112.32 481.33,114.98 499.95,57.63 518.58,41.90" fill="none" stroke="#ee1111" stroke-width="1.3" />
<polyline points="518.58,41.90 531.24,17.70" fill="none" stroke="#ee1111" stroke-width="1.6" stroke-dasharray="1.2 1.2"/>
<line x1="425.45" y1="50.37" x2="425.45" y2="70.70" stroke="#ee1111" stroke-width="0.9" />
<line x1="423.95" y1="50.37" x2="426.95" y2="50.37" stroke="#ee1111" stroke-width="0.9" />
<line x1="423.95" y1="70.70" x2="426.95" y2="70.70" stroke="#ee1111" stroke-width="0.9" />
<circle cx="425.45" cy="60.53" r="1.90" fill="#ee1111"/>
<line x1="444.07" y1="103.85" x2="444.07" y2="111.11" stroke="#ee1111" stroke-width="0.9" />
<line x1="442.57" y1="103.85" x2="445.57" y2="103.85" stroke="#ee1111" stroke-width="0.9" />
<line x1="442.57" y1="111.11" x2="445.57" y2="111.11" stroke="#ee1111" stroke-width="0.9" />
<circle cx="444.07" cy="107.48" r="1.90" fill="#ee1111"/>
<circle cx="462.70" cy="112.32" r="1.90" fill="#ee1111"/>
<circle cx="481.33" cy="114.98" r="1.90" fill="#ee1111"/>
<line x1="499.95" y1="46.74" x2="499.95" y2="68.52" stroke="#ee1111" stroke-width="0.9" />
<line x1="498.45" y1="46.74" x2="501.45" y2="46.74" stroke="#ee1111" stroke-width="0.9" />
<line x1="498.45" y1="68.52" x2="501.45" y2="68.52" stroke="#ee1111" stroke-width="0.9" />
<circle cx="499.95" cy="57.63" r="1.90" fill="#ee1111"/>
<line x1="518.58" y1="29.80" x2="518.58" y2="54.00" stroke="#ee1111" stroke-width="0.9" />
<line x1="517.08" y1="29.80" x2="520.08" y2="29.80" stroke="#ee1111" stroke-width="0.9" />
<line x1="517.08" y1="54.00" x2="520.08" y2="54.00" stroke="#ee1111" stroke-width="0.9" />
<circle cx="518.58" cy="41.90" r="1.90" fill="#ee1111"/>
<polyline points="406.82,110.63 425.45,116.19 444.07,115.47 462.70,88.12" fill="none" stroke="#1a22ee" stroke-width="1.3" />
<polyline points="462.70,88.12 472.38,17.70" fill="none" stroke="#1a22ee" stroke-width="1.6" stroke-dasharray="1.2 1.2"/>
<line x1="406.82" y1="108.21" x2="406.82" y2="113.05" stroke="#1a22ee" stroke-width="0.9" />
<line x1="405.32" y1="108.21" x2="408.32" y2="108.21" stroke="#1a22ee" stroke-width="0.9" />
<line x1="405.32" y1="113.05" x2="408.32" y2="113.05" stroke="#1a22ee" stroke-width="0.9" />
<polygon points="406.82,108.35 404.55,112.34 409.10,112.34" fill="#1a22ee" stroke="none" stroke-width="0" />
<polygon points="425.45,113.91 423.17,117.90 427.73,117.90" fill="#1a22ee" stroke="none" stroke-width="0" />
<polygon points="444.07,113.19 441.80,117.18 446.35,117.18" fill="#1a22ee" stroke="none" stroke-width="0" />
<line x1="462.70" y1="78.44" x2="462.70" y2="97.80" stroke="#1a22ee" stroke-width="0.9" />
<line x1="461.20" y1="78.44" x2="464.20" y2="78.44" stroke="#1a22ee" stroke-width="0.9" />
<line x1="461.20" y1="97.80" x2="464.20" y2="97.80" stroke="#1a22ee" stroke-width="0.9" />
<polygon points="462.70,85.84 460.42,89.83 464.98,89.83" fill="#1a22ee" stroke="none" stroke-width="0" />
<line x1="392.40" y1="23.10" x2="407.90" y2="23.10" stroke="#111" stroke-width="1.4" />
<rect x="398.30" y="21.30" width="3.60" height="3.60" fill="#111"/>
<text x="409.8" y="22.00" font-family="Liberation Sans" font-size="6.8" font-weight="bold" fill="#1a1a1a" stroke="#1a1a1a" stroke-width="0.15" dominant-baseline="central" textLength="21.3" lengthAdjust="spacingAndGlyphs"><tspan font-style="italic">N</tspan><tspan font-size="4.2" dy="1.8" font-style="italic">P</tspan><tspan dy="-1.8"> = 10</tspan></text>
<line x1="392.40" y1="33.80" x2="407.90" y2="33.80" stroke="#ee1111" stroke-width="1.4" />
<circle cx="400.10" cy="33.80" r="1.80" fill="#ee1111"/>
<text x="409.8" y="32.70" font-family="Liberation Sans" font-size="6.8" font-weight="bold" fill="#1a1a1a" stroke="#1a1a1a" stroke-width="0.15" dominant-baseline="central" textLength="25.2" lengthAdjust="spacingAndGlyphs"><tspan font-style="italic">N</tspan><tspan font-size="4.2" dy="1.8" font-style="italic">P</tspan><tspan dy="-1.8"> = 100</tspan></text>
<line x1="392.40" y1="44.40" x2="407.90" y2="44.40" stroke="#1a22ee" stroke-width="1.4" />
<polygon points="400.10,42.24 397.94,46.02 402.26,46.02" fill="#1a22ee" stroke="none" stroke-width="0" />
<text x="409.8" y="43.30" font-family="Liberation Sans" font-size="6.8" font-weight="bold" fill="#1a1a1a" stroke="#1a1a1a" stroke-width="0.15" dominant-baseline="central" textLength="29.2" lengthAdjust="spacingAndGlyphs"><tspan font-style="italic">N</tspan><tspan font-size="4.2" dy="1.8" font-style="italic">P</tspan><tspan dy="-1.8"> = 1000</tspan></text>
<rect x="385.9" y="168.2" width="151.70000000000005" height="111.0" fill="none" stroke="#222" stroke-width="1"/>
<line x1="385.90" y1="279.20" x2="385.90" y2="281.40" stroke="#222" stroke-width="0.9" />
<line x1="385.90" y1="168.20" x2="385.90" y2="170.40" stroke="#222" stroke-width="0.9" />
<line x1="399.60" y1="279.20" x2="399.60" y2="280.50" stroke="#222" stroke-width="0.9" />
<line x1="399.60" y1="168.20" x2="399.60" y2="169.50" stroke="#222" stroke-width="0.9" />
<line x1="413.30" y1="279.20" x2="413.30" y2="281.40" stroke="#222" stroke-width="0.9" />
<line x1="413.30" y1="168.20" x2="413.30" y2="170.40" stroke="#222" stroke-width="0.9" />
<line x1="427.00" y1="279.20" x2="427.00" y2="280.50" stroke="#222" stroke-width="0.9" />
<line x1="427.00" y1="168.20" x2="427.00" y2="169.50" stroke="#222" stroke-width="0.9" />
<line x1="440.70" y1="279.20" x2="440.70" y2="281.40" stroke="#222" stroke-width="0.9" />
<line x1="440.70" y1="168.20" x2="440.70" y2="170.40" stroke="#222" stroke-width="0.9" />
<line x1="454.40" y1="279.20" x2="454.40" y2="280.50" stroke="#222" stroke-width="0.9" />
<line x1="454.40" y1="168.20" x2="454.40" y2="169.50" stroke="#222" stroke-width="0.9" />
<line x1="468.10" y1="279.20" x2="468.10" y2="281.40" stroke="#222" stroke-width="0.9" />
<line x1="468.10" y1="168.20" x2="468.10" y2="170.40" stroke="#222" stroke-width="0.9" />
<line x1="481.80" y1="279.20" x2="481.80" y2="280.50" stroke="#222" stroke-width="0.9" />
<line x1="481.80" y1="168.20" x2="481.80" y2="169.50" stroke="#222" stroke-width="0.9" />
<line x1="495.50" y1="279.20" x2="495.50" y2="281.40" stroke="#222" stroke-width="0.9" />
<line x1="495.50" y1="168.20" x2="495.50" y2="170.40" stroke="#222" stroke-width="0.9" />
<line x1="509.20" y1="279.20" x2="509.20" y2="280.50" stroke="#222" stroke-width="0.9" />
<line x1="509.20" y1="168.20" x2="509.20" y2="169.50" stroke="#222" stroke-width="0.9" />
<line x1="522.90" y1="279.20" x2="522.90" y2="281.40" stroke="#222" stroke-width="0.9" />
<line x1="522.90" y1="168.20" x2="522.90" y2="170.40" stroke="#222" stroke-width="0.9" />
<line x1="536.60" y1="279.20" x2="536.60" y2="280.50" stroke="#222" stroke-width="0.9" />
<line x1="536.60" y1="168.20" x2="536.60" y2="169.50" stroke="#222" stroke-width="0.9" />
<line x1="385.90" y1="279.20" x2="383.70" y2="279.20" stroke="#222" stroke-width="0.9" />
<line x1="537.60" y1="279.20" x2="535.40" y2="279.20" stroke="#222" stroke-width="0.9" />
<line x1="385.90" y1="268.10" x2="384.60" y2="268.10" stroke="#222" stroke-width="0.9" />
<line x1="537.60" y1="268.10" x2="536.30" y2="268.10" stroke="#222" stroke-width="0.9" />
<line x1="385.90" y1="257.00" x2="383.70" y2="257.00" stroke="#222" stroke-width="0.9" />
<line x1="537.60" y1="257.00" x2="535.40" y2="257.00" stroke="#222" stroke-width="0.9" />
<line x1="385.90" y1="245.90" x2="384.60" y2="245.90" stroke="#222" stroke-width="0.9" />
<line x1="537.60" y1="245.90" x2="536.30" y2="245.90" stroke="#222" stroke-width="0.9" />
<line x1="385.90" y1="234.80" x2="383.70" y2="234.80" stroke="#222" stroke-width="0.9" />
<line x1="537.60" y1="234.80" x2="535.40" y2="234.80" stroke="#222" stroke-width="0.9" />
<line x1="385.90" y1="223.70" x2="384.60" y2="223.70" stroke="#222" stroke-width="0.9" />
<line x1="537.60" y1="223.70" x2="536.30" y2="223.70" stroke="#222" stroke-width="0.9" />
<line x1="385.90" y1="212.60" x2="383.70" y2="212.60" stroke="#222" stroke-width="0.9" />
<line x1="537.60" y1="212.60" x2="535.40" y2="212.60" stroke="#222" stroke-width="0.9" />
<line x1="385.90" y1="201.50" x2="384.60" y2="201.50" stroke="#222" stroke-width="0.9" />
<line x1="537.60" y1="201.50" x2="536.30" y2="201.50" stroke="#222" stroke-width="0.9" />
<line x1="385.90" y1="190.40" x2="383.70" y2="190.40" stroke="#222" stroke-width="0.9" />
<line x1="537.60" y1="190.40" x2="535.40" y2="190.40" stroke="#222" stroke-width="0.9" />
<line x1="385.90" y1="179.30" x2="384.60" y2="179.30" stroke="#222" stroke-width="0.9" />
<line x1="537.60" y1="179.30" x2="536.30" y2="179.30" stroke="#222" stroke-width="0.9" />
<line x1="385.90" y1="168.20" x2="383.70" y2="168.20" stroke="#222" stroke-width="0.9" />
<line x1="537.60" y1="168.20" x2="535.40" y2="168.20" stroke="#222" stroke-width="0.9" />
<text x="382.20" y="279.20" font-family="Liberation Sans" font-size="7.2" font-weight="bold" font-style="normal" fill="#1a1a1a" text-anchor="end" dominant-baseline="central" stroke="#1a1a1a" stroke-width="0.2">0</text>
<text x="382.20" y="257.00" font-family="Liberation Sans" font-size="7.2" font-weight="bold" font-style="normal" fill="#1a1a1a" text-anchor="end" dominant-baseline="central" stroke="#1a1a1a" stroke-width="0.2">2</text>
<text x="382.20" y="234.80" font-family="Liberation Sans" font-size="7.2" font-weight="bold" font-style="normal" fill="#1a1a1a" text-anchor="end" dominant-baseline="central" stroke="#1a1a1a" stroke-width="0.2">4</text>
<text x="382.20" y="212.60" font-family="Liberation Sans" font-size="7.2" font-weight="bold" font-style="normal" fill="#1a1a1a" text-anchor="end" dominant-baseline="central" stroke="#1a1a1a" stroke-width="0.2">6</text>
<text x="382.20" y="190.40" font-family="Liberation Sans" font-size="7.2" font-weight="bold" font-style="normal" fill="#1a1a1a" text-anchor="end" dominant-baseline="central" stroke="#1a1a1a" stroke-width="0.2">8</text>
<text x="382.20" y="168.20" font-family="Liberation Sans" font-size="7.2" font-weight="bold" font-style="normal" fill="#1a1a1a" text-anchor="end" dominant-baseline="central" stroke="#1a1a1a" stroke-width="0.2">10</text>
<text x="385.90" y="286.40" font-family="Liberation Sans" font-size="7.2" font-weight="bold" font-style="normal" fill="#1a1a1a" text-anchor="middle" dominant-baseline="central" stroke="#1a1a1a" stroke-width="0.2">0</text>
<text x="413.30" y="286.40" font-family="Liberation Sans" font-size="7.2" font-weight="bold" font-style="normal" fill="#1a1a1a" text-anchor="middle" dominant-baseline="central" stroke="#1a1a1a" stroke-width="0.2">20</text>
<text x="440.70" y="286.40" font-family="Liberation Sans" font-size="7.2" font-weight="bold" font-style="normal" fill="#1a1a1a" text-anchor="middle" dominant-baseline="central" stroke="#1a1a1a" stroke-width="0.2">40</text>
<text x="468.10" y="286.40" font-family="Liberation Sans" font-size="7.2" font-weight="bold" font-style="normal" fill="#1a1a1a" text-anchor="middle" dominant-baseline="central" stroke="#1a1a1a" stroke-width="0.2">60</text>
<text x="495.50" y="286.40" font-family="Liberation Sans" font-size="7.2" font-weight="bold" font-style="normal" fill="#1a1a1a" text-anchor="middle" dominant-baseline="central" stroke="#1a1a1a" stroke-width="0.2">80</text>
<text x="522.90" y="286.40" font-family="Liberation Sans" font-size="7.2" font-weight="bold" font-style="normal" fill="#1a1a1a" text-anchor="middle" dominant-baseline="central" stroke="#1a1a1a" stroke-width="0.2">100</text>
<text x="368.00" y="213.00" font-family="Liberation Sans" font-size="8.0" font-weight="bold" font-style="normal" fill="#1a1a1a" text-anchor="middle" dominant-baseline="central" textLength="88" lengthAdjust="spacingAndGlyphs" transform="rotate(-90 368.00 213.00)" stroke="#1a1a1a" stroke-width="0.2">Sheet resistance (Ω/sq)</text>
<text x="416.5" y="301.3" font-family="Liberation Sans" font-size="8.2" font-weight="bold" fill="#1a1a1a" stroke="#1a1a1a" stroke-width="0.2" dominant-baseline="central" textLength="90" lengthAdjust="spacingAndGlyphs">Laser fluence (mJ/cm<tspan font-size="6" dy="-3">2</tspan><tspan dy="3">)</tspan></text>
<text x="420" y="147.4" font-family="Liberation Sans" font-size="0" fill="#222"></text>
<polyline points="399.60,236.46 413.30,255.33 427.00,268.10 440.70,259.77 454.40,254.78 468.10,247.56 481.80,243.68 495.50,208.16 509.20,187.07" fill="none" stroke="#111" stroke-width="1.3" />
<polyline points="509.20,187.07 527.01,168.20" fill="none" stroke="#111" stroke-width="1.3" stroke-dasharray="1.1 1.1"/>
<line x1="399.60" y1="235.35" x2="399.60" y2="237.57" stroke="#111" stroke-width="0.9" />
<line x1="398.30" y1="235.35" x2="400.90" y2="235.35" stroke="#111" stroke-width="0.8" />
<line x1="398.30" y1="237.57" x2="400.90" y2="237.57" stroke="#111" stroke-width="0.8" />
<rect x="397.80" y="234.66" width="3.60" height="3.60" fill="#111"/>
<line x1="413.30" y1="254.22" x2="413.30" y2="256.44" stroke="#111" stroke-width="0.9" />
<line x1="412.00" y1="254.22" x2="414.60" y2="254.22" stroke="#111" stroke-width="0.8" />
<line x1="412.00" y1="256.44" x2="414.60" y2="256.44" stroke="#111" stroke-width="0.8" />
<rect x="411.50" y="253.53" width="3.60" height="3.60" fill="#111"/>
<line x1="427.00" y1="266.99" x2="427.00" y2="269.21" stroke="#111" stroke-width="0.9" />
<line x1="425.70" y1="266.99" x2="428.30" y2="266.99" stroke="#111" stroke-width="0.8" />
<line x1="425.70" y1="269.21" x2="428.30" y2="269.21" stroke="#111" stroke-width="0.8" />
<rect x="425.20" y="266.30" width="3.60" height="3.60" fill="#111"/>
<line x1="440.70" y1="257.00" x2="440.70" y2="262.55" stroke="#111" stroke-width="0.9" />
<line x1="439.40" y1="257.00" x2="442.00" y2="257.00" stroke="#111" stroke-width="0.8" />
<line x1="439.40" y1="262.55" x2="442.00" y2="262.55" stroke="#111" stroke-width="0.8" />
<rect x="438.90" y="257.97" width="3.60" height="3.60" fill="#111"/>
<line x1="454.40" y1="252.56" x2="454.40" y2="257.00" stroke="#111" stroke-width="0.9" />
<line x1="453.10" y1="252.56" x2="455.70" y2="252.56" stroke="#111" stroke-width="0.8" />
<line x1="453.10" y1="257.00" x2="455.70" y2="257.00" stroke="#111" stroke-width="0.8" />
<rect x="452.60" y="252.98" width="3.60" height="3.60" fill="#111"/>
<line x1="468.10" y1="245.90" x2="468.10" y2="249.23" stroke="#111" stroke-width="0.9" />
<line x1="466.80" y1="245.90" x2="469.40" y2="245.90" stroke="#111" stroke-width="0.8" />
<line x1="466.80" y1="249.23" x2="469.40" y2="249.23" stroke="#111" stroke-width="0.8" />
<rect x="466.30" y="245.76" width="3.60" height="3.60" fill="#111"/>
<line x1="481.80" y1="241.46" x2="481.80" y2="245.90" stroke="#111" stroke-width="0.9" />
<line x1="480.50" y1="241.46" x2="483.10" y2="241.46" stroke="#111" stroke-width="0.8" />
<line x1="480.50" y1="245.90" x2="483.10" y2="245.90" stroke="#111" stroke-width="0.8" />
<rect x="480.00" y="241.88" width="3.60" height="3.60" fill="#111"/>
<line x1="495.50" y1="198.17" x2="495.50" y2="218.15" stroke="#111" stroke-width="0.9" />
<line x1="494.20" y1="198.17" x2="496.80" y2="198.17" stroke="#111" stroke-width="0.8" />
<line x1="494.20" y1="218.15" x2="496.80" y2="218.15" stroke="#111" stroke-width="0.8" />
<rect x="493.70" y="206.36" width="3.60" height="3.60" fill="#111"/>
<line x1="509.20" y1="182.63" x2="509.20" y2="191.51" stroke="#111" stroke-width="0.9" />
<line x1="507.90" y1="182.63" x2="510.50" y2="182.63" stroke="#111" stroke-width="0.8" />
<line x1="507.90" y1="191.51" x2="510.50" y2="191.51" stroke="#111" stroke-width="0.8" />
<rect x="507.40" y="185.27" width="3.60" height="3.60" fill="#111"/>
<polyline points="399.60,235.35 413.30,254.78 427.00,265.88 440.70,259.22 454.40,254.22 468.10,246.34 481.80,241.24 495.50,201.06 509.20,184.85" fill="none" stroke="#ee1111" stroke-width="1.3" />
<polyline points="509.20,184.85 519.61,168.20" fill="none" stroke="#ee1111" stroke-width="1.3" stroke-dasharray="1.1 1.1"/>
<line x1="399.60" y1="234.25" x2="399.60" y2="236.46" stroke="#ee1111" stroke-width="0.9" />
<line x1="398.30" y1="234.25" x2="400.90" y2="234.25" stroke="#ee1111" stroke-width="0.8" />
<line x1="398.30" y1="236.46" x2="400.90" y2="236.46" stroke="#ee1111" stroke-width="0.8" />
<circle cx="399.60" cy="235.35" r="1.80" fill="#ee1111"/>
<line x1="413.30" y1="253.67" x2="413.30" y2="255.89" stroke="#ee1111" stroke-width="0.9" />
<line x1="412.00" y1="253.67" x2="414.60" y2="253.67" stroke="#ee1111" stroke-width="0.8" />
<line x1="412.00" y1="255.89" x2="414.60" y2="255.89" stroke="#ee1111" stroke-width="0.8" />
<circle cx="413.30" cy="254.78" r="1.80" fill="#ee1111"/>
<line x1="427.00" y1="264.77" x2="427.00" y2="266.99" stroke="#ee1111" stroke-width="0.9" />
<line x1="425.70" y1="264.77" x2="428.30" y2="264.77" stroke="#ee1111" stroke-width="0.8" />
<line x1="425.70" y1="266.99" x2="428.30" y2="266.99" stroke="#ee1111" stroke-width="0.8" />
<circle cx="427.00" cy="265.88" r="1.80" fill="#ee1111"/>
<line x1="440.70" y1="258.11" x2="440.70" y2="260.33" stroke="#ee1111" stroke-width="0.9" />
<line x1="439.40" y1="258.11" x2="442.00" y2="258.11" stroke="#ee1111" stroke-width="0.8" />
<line x1="439.40" y1="260.33" x2="442.00" y2="260.33" stroke="#ee1111" stroke-width="0.8" />
<circle cx="440.70" cy="259.22" r="1.80" fill="#ee1111"/>
<line x1="454.40" y1="252.00" x2="454.40" y2="256.44" stroke="#ee1111" stroke-width="0.9" />
<line x1="453.10" y1="252.00" x2="455.70" y2="252.00" stroke="#ee1111" stroke-width="0.8" />
<line x1="453.10" y1="256.44" x2="455.70" y2="256.44" stroke="#ee1111" stroke-width="0.8" />
<circle cx="454.40" cy="254.22" r="1.80" fill="#ee1111"/>
<line x1="468.10" y1="245.23" x2="468.10" y2="247.45" stroke="#ee1111" stroke-width="0.9" />
<line x1="466.80" y1="245.23" x2="469.40" y2="245.23" stroke="#ee1111" stroke-width="0.8" />
<line x1="466.80" y1="247.45" x2="469.40" y2="247.45" stroke="#ee1111" stroke-width="0.8" />
<circle cx="468.10" cy="246.34" r="1.80" fill="#ee1111"/>
<line x1="481.80" y1="240.13" x2="481.80" y2="242.35" stroke="#ee1111" stroke-width="0.9" />
<line x1="480.50" y1="240.13" x2="483.10" y2="240.13" stroke="#ee1111" stroke-width="0.8" />
<line x1="480.50" y1="242.35" x2="483.10" y2="242.35" stroke="#ee1111" stroke-width="0.8" />
<circle cx="481.80" cy="241.24" r="1.80" fill="#ee1111"/>
<line x1="495.50" y1="197.73" x2="495.50" y2="204.39" stroke="#ee1111" stroke-width="0.9" />
<line x1="494.20" y1="197.73" x2="496.80" y2="197.73" stroke="#ee1111" stroke-width="0.8" />
<line x1="494.20" y1="204.39" x2="496.80" y2="204.39" stroke="#ee1111" stroke-width="0.8" />
<circle cx="495.50" cy="201.06" r="1.80" fill="#ee1111"/>
<line x1="509.20" y1="181.52" x2="509.20" y2="188.18" stroke="#ee1111" stroke-width="0.9" />
<line x1="507.90" y1="181.52" x2="510.50" y2="181.52" stroke="#ee1111" stroke-width="0.8" />
<line x1="507.90" y1="188.18" x2="510.50" y2="188.18" stroke="#ee1111" stroke-width="0.8" />
<circle cx="509.20" cy="184.85" r="1.80" fill="#ee1111"/>
<polyline points="399.60,234.25 413.30,255.11 427.00,262.00 440.70,254.11 454.40,242.79 468.10,209.27 481.80,184.85 488.92,168.20" fill="none" stroke="#1a22ee" stroke-width="1.3" />
<line x1="399.60" y1="233.13" x2="399.60" y2="235.35" stroke="#1a22ee" stroke-width="0.9" />
<line x1="398.30" y1="233.13" x2="400.90" y2="233.13" stroke="#1a22ee" stroke-width="0.8" />
<line x1="398.30" y1="235.35" x2="400.90" y2="235.35" stroke="#1a22ee" stroke-width="0.8" />
<polygon points="399.60,232.09 397.44,235.87 401.76,235.87" fill="#1a22ee" stroke="none" stroke-width="0" />
<line x1="413.30" y1="254.00" x2="413.30" y2="256.22" stroke="#1a22ee" stroke-width="0.9" />
<line x1="412.00" y1="254.00" x2="414.60" y2="254.00" stroke="#1a22ee" stroke-width="0.8" />
<line x1="412.00" y1="256.22" x2="414.60" y2="256.22" stroke="#1a22ee" stroke-width="0.8" />
<polygon points="413.30,252.95 411.14,256.73 415.46,256.73" fill="#1a22ee" stroke="none" stroke-width="0" />
<line x1="427.00" y1="260.88" x2="427.00" y2="263.11" stroke="#1a22ee" stroke-width="0.9" />
<line x1="425.70" y1="260.88" x2="428.30" y2="260.88" stroke="#1a22ee" stroke-width="0.8" />
<line x1="425.70" y1="263.11" x2="428.30" y2="263.11" stroke="#1a22ee" stroke-width="0.8" />
<polygon points="427.00,259.83 424.84,263.62 429.16,263.62" fill="#1a22ee" stroke="none" stroke-width="0" />
<line x1="440.70" y1="252.45" x2="440.70" y2="255.78" stroke="#1a22ee" stroke-width="0.9" />
<line x1="439.40" y1="252.45" x2="442.00" y2="252.45" stroke="#1a22ee" stroke-width="0.8" />
<line x1="439.40" y1="255.78" x2="442.00" y2="255.78" stroke="#1a22ee" stroke-width="0.8" />
<polygon points="440.70,251.95 438.54,255.73 442.86,255.73" fill="#1a22ee" stroke="none" stroke-width="0" />
<line x1="454.40" y1="241.13" x2="454.40" y2="244.46" stroke="#1a22ee" stroke-width="0.9" />
<line x1="453.10" y1="241.13" x2="455.70" y2="241.13" stroke="#1a22ee" stroke-width="0.8" />
<line x1="453.10" y1="244.46" x2="455.70" y2="244.46" stroke="#1a22ee" stroke-width="0.8" />
<polygon points="454.40,240.63 452.24,244.41 456.56,244.41" fill="#1a22ee" stroke="none" stroke-width="0" />
<line x1="468.10" y1="207.05" x2="468.10" y2="211.49" stroke="#1a22ee" stroke-width="0.9" />
<line x1="466.80" y1="207.05" x2="469.40" y2="207.05" stroke="#1a22ee" stroke-width="0.8" />
<line x1="466.80" y1="211.49" x2="469.40" y2="211.49" stroke="#1a22ee" stroke-width="0.8" />
<polygon points="468.10,207.11 465.94,210.89 470.26,210.89" fill="#1a22ee" stroke="none" stroke-width="0" />
<line x1="481.80" y1="183.19" x2="481.80" y2="186.51" stroke="#1a22ee" stroke-width="0.9" />
<line x1="480.50" y1="183.19" x2="483.10" y2="183.19" stroke="#1a22ee" stroke-width="0.8" />
<line x1="480.50" y1="186.51" x2="483.10" y2="186.51" stroke="#1a22ee" stroke-width="0.8" />
<polygon points="481.80,182.69 479.64,186.47 483.96,186.47" fill="#1a22ee" stroke="none" stroke-width="0" />
<line x1="398.80" y1="180.20" x2="413.60" y2="180.20" stroke="#111" stroke-width="1.4" />
<rect x="404.50" y="178.50" width="3.40" height="3.40" fill="#111"/>
<text x="419.1" y="179.90" font-family="Liberation Sans" font-size="6.4" font-weight="bold" fill="#1a1a1a" stroke="#1a1a1a" stroke-width="0.12" dominant-baseline="central" textLength="28.5" lengthAdjust="spacingAndGlyphs"><tspan font-style="italic">N</tspan><tspan font-size="4" dy="1.5" font-style="italic">P</tspan><tspan dy="-1.5"> = 1000</tspan></text>
<line x1="398.80" y1="190.40" x2="413.60" y2="190.40" stroke="#ee1111" stroke-width="1.4" />
<circle cx="406.20" cy="190.40" r="1.70" fill="#ee1111"/>
<text x="419.1" y="190.10" font-family="Liberation Sans" font-size="6.4" font-weight="bold" fill="#1a1a1a" stroke="#1a1a1a" stroke-width="0.12" dominant-baseline="central" textLength="28.5" lengthAdjust="spacingAndGlyphs"><tspan font-style="italic">N</tspan><tspan font-size="4" dy="1.5" font-style="italic">P</tspan><tspan dy="-1.5"> = 5000</tspan></text>
<line x1="398.80" y1="200.30" x2="413.60" y2="200.30" stroke="#1a22ee" stroke-width="1.4" />
<polygon points="406.20,198.26 404.16,201.83 408.24,201.83" fill="#1a22ee" stroke="none" stroke-width="0" />
<text x="419.1" y="200.00" font-family="Liberation Sans" font-size="6.4" font-weight="bold" fill="#1a1a1a" stroke="#1a1a1a" stroke-width="0.12" dominant-baseline="central" textLength="33.5" lengthAdjust="spacingAndGlyphs"><tspan font-style="italic">N</tspan><tspan font-size="4" dy="1.5" font-style="italic">P</tspan><tspan dy="-1.5"> = 10,000</tspan></text>
<rect x="198.4" y="154.4" width="135.6" height="121.1" fill="none" stroke="#666" stroke-width="0.8"/>
<line x1="198.40" y1="260.36" x2="199.90" y2="260.36" stroke="#666" stroke-width="0.7" />
<line x1="198.40" y1="245.22" x2="199.90" y2="245.22" stroke="#666" stroke-width="0.7" />
<line x1="198.40" y1="230.09" x2="199.90" y2="230.09" stroke="#666" stroke-width="0.7" />
<line x1="198.40" y1="214.95" x2="199.90" y2="214.95" stroke="#666" stroke-width="0.7" />
<line x1="198.40" y1="199.81" x2="199.90" y2="199.81" stroke="#666" stroke-width="0.7" />
<line x1="198.40" y1="184.68" x2="199.90" y2="184.68" stroke="#666" stroke-width="0.7" />
<line x1="198.40" y1="169.54" x2="199.90" y2="169.54" stroke="#666" stroke-width="0.7" />
<line x1="221.00" y1="275.50" x2="221.00" y2="274.00" stroke="#666" stroke-width="0.7" />
<line x1="243.60" y1="275.50" x2="243.60" y2="274.00" stroke="#666" stroke-width="0.7" />
<line x1="266.20" y1="275.50" x2="266.20" y2="274.00" stroke="#666" stroke-width="0.7" />
<line x1="288.80" y1="275.50" x2="288.80" y2="274.00" stroke="#666" stroke-width="0.7" />
<line x1="311.40" y1="275.50" x2="311.40" y2="274.00" stroke="#666" stroke-width="0.7" />
<text x="192.70" y="275.50" font-family="Liberation Sans" font-size="9.2" font-weight="normal" font-style="normal" fill="#222" text-anchor="end" dominant-baseline="central" textLength="4.8" lengthAdjust="spacingAndGlyphs" stroke="#222" stroke-width="0.25">0</text>
<text x="192.70" y="260.36" font-family="Liberation Sans" font-size="9.2" font-weight="normal" font-style="normal" fill="#222" text-anchor="end" dominant-baseline="central" textLength="9.6" lengthAdjust="spacingAndGlyphs" stroke="#222" stroke-width="0.25">10</text>
<text x="192.70" y="245.22" font-family="Liberation Sans" font-size="9.2" font-weight="normal" font-style="normal" fill="#222" text-anchor="end" dominant-baseline="central" textLength="9.6" lengthAdjust="spacingAndGlyphs" stroke="#222" stroke-width="0.25">20</text>
<text x="192.70" y="230.09" font-family="Liberation Sans" font-size="9.2" font-weight="normal" font-style="normal" fill="#222" text-anchor="end" dominant-baseline="central" textLength="9.6" lengthAdjust="spacingAndGlyphs" stroke="#222" stroke-width="0.25">30</text>
<text x="192.70" y="214.95" font-family="Liberation Sans" font-size="9.2" font-weight="normal" font-style="normal" fill="#222" text-anchor="end" dominant-baseline="central" textLength="9.6" lengthAdjust="spacingAndGlyphs" stroke="#222" stroke-width="0.25">40</text>
<text x="192.70" y="199.81" font-family="Liberation Sans" font-size="9.2" font-weight="normal" font-style="normal" fill="#222" text-anchor="end" dominant-baseline="central" textLength="9.6" lengthAdjust="spacingAndGlyphs" stroke="#222" stroke-width="0.25">50</text>
<text x="192.70" y="184.68" font-family="Liberation Sans" font-size="9.2" font-weight="normal" font-style="normal" fill="#222" text-anchor="end" dominant-baseline="central" textLength="9.6" lengthAdjust="spacingAndGlyphs" stroke="#222" stroke-width="0.25">60</text>
<text x="192.70" y="169.54" font-family="Liberation Sans" font-size="9.2" font-weight="normal" font-style="normal" fill="#222" text-anchor="end" dominant-baseline="central" textLength="9.6" lengthAdjust="spacingAndGlyphs" stroke="#222" stroke-width="0.25">70</text>
<text x="192.70" y="154.40" font-family="Liberation Sans" font-size="9.2" font-weight="normal" font-style="normal" fill="#222" text-anchor="end" dominant-baseline="central" textLength="9.6" lengthAdjust="spacingAndGlyphs" stroke="#222" stroke-width="0.25">80</text>
<text x="198.40" y="289.60" font-family="Liberation Sans" font-size="9.2" font-weight="normal" font-style="normal" fill="#222" text-anchor="middle" dominant-baseline="central" textLength="4.65" lengthAdjust="spacingAndGlyphs" stroke="#222" stroke-width="0.25">0</text>
<text x="221.00" y="289.60" font-family="Liberation Sans" font-size="9.2" font-weight="normal" font-style="normal" fill="#222" text-anchor="middle" dominant-baseline="central" textLength="13.950000000000001" lengthAdjust="spacingAndGlyphs" stroke="#222" stroke-width="0.25">200</text>
<text x="243.60" y="289.60" font-family="Liberation Sans" font-size="9.2" font-weight="normal" font-style="normal" fill="#222" text-anchor="middle" dominant-baseline="central" textLength="13.950000000000001" lengthAdjust="spacingAndGlyphs" stroke="#222" stroke-width="0.25">400</text>
<text x="266.20" y="289.60" font-family="Liberation Sans" font-size="9.2" font-weight="normal" font-style="normal" fill="#222" text-anchor="middle" dominant-baseline="central" textLength="13.950000000000001" lengthAdjust="spacingAndGlyphs" stroke="#222" stroke-width="0.25">600</text>
<text x="288.80" y="289.60" font-family="Liberation Sans" font-size="9.2" font-weight="normal" font-style="normal" fill="#222" text-anchor="middle" dominant-baseline="central" textLength="13.950000000000001" lengthAdjust="spacingAndGlyphs" stroke="#222" stroke-width="0.25">800</text>
<text x="311.40" y="289.60" font-family="Liberation Sans" font-size="9.2" font-weight="normal" font-style="normal" fill="#222" text-anchor="middle" dominant-baseline="central" textLength="18.6" lengthAdjust="spacingAndGlyphs" stroke="#222" stroke-width="0.25">1000</text>
<text x="334.00" y="289.60" font-family="Liberation Sans" font-size="9.2" font-weight="normal" font-style="normal" fill="#222" text-anchor="middle" dominant-baseline="central" textLength="18.6" lengthAdjust="spacingAndGlyphs" stroke="#222" stroke-width="0.25">1200</text>
<text x="266.90" y="300.20" font-family="Liberation Sans" font-size="8.5" font-weight="bold" font-style="normal" fill="#222" text-anchor="middle" dominant-baseline="central">nm</text>
<text x="174.80" y="214.70" font-family="Liberation Sans" font-size="9.2" font-weight="bold" font-style="normal" fill="#222" text-anchor="middle" dominant-baseline="central" textLength="57.5" lengthAdjust="spacingAndGlyphs" transform="rotate(-90 174.80 214.70)">Enhancement</text>
<polyline points="199.53,272.42 200.09,272.38 200.66,272.34 201.22,272.29 201.79,272.24 202.36,272.19 202.92,272.13 203.49,272.07 204.05,272.00 204.62,271.92 205.18,271.84 205.75,271.75 206.31,271.66 206.88,271.56 207.44,271.45 208.00,271.33 208.57,271.20 209.13,271.06 209.70,270.92 210.27,270.76 210.83,270.59 211.40,270.41 211.96,270.22 212.53,270.02 213.09,269.81 213.66,269.58 214.22,269.34 214.78,269.08 215.35,268.81 215.92,268.52 216.48,268.22 217.05,267.90 217.61,267.57 218.18,267.22 218.74,266.85 219.31,266.46 219.87,266.06 220.44,265.63 221.00,265.19 221.56,264.73 222.13,264.25 222.69,263.75 223.26,263.23 223.83,262.69 224.39,262.13 224.96,261.55 225.52,260.95 226.09,260.34 226.65,259.70 227.22,259.04 227.78,258.37 228.34,257.68 228.91,256.97 229.47,256.24 230.04,255.49 230.61,254.73 231.17,253.96 231.74,253.16 232.30,252.36 232.87,251.54 233.43,250.71 234.00,249.86 234.56,249.01 235.12,248.14 235.69,247.27 236.25,246.39 236.82,245.51 237.38,244.61 237.95,243.72 238.52,242.82 239.08,241.92 239.65,241.02 240.21,240.13 240.78,239.23 241.34,238.34 241.91,237.46 242.47,236.58 243.03,235.71 243.60,234.85 244.17,234.00 244.73,233.16 245.30,232.33 245.86,231.52 246.43,230.73 246.99,229.95 247.56,229.19 248.12,228.44 248.69,227.72 249.25,227.02 249.81,226.34 250.38,225.68 250.94,225.05 251.51,224.44 252.07,223.86 252.64,223.30 253.21,222.77 253.77,222.26 254.34,221.78 254.90,221.32 255.47,220.90 256.03,220.50 256.60,220.13 257.16,219.78 257.73,219.46 258.29,219.17 258.86,218.91 259.42,218.67 259.99,218.45 260.55,218.26 261.12,218.10 261.68,217.96 262.25,217.84 262.81,217.74 263.38,217.66 263.94,217.61 264.50,217.56 265.07,217.54 265.63,217.53 266.20,217.52 266.76,217.53 267.33,217.54 267.89,217.56 268.46,217.61 269.02,217.66 269.59,217.74 270.15,217.84 270.72,217.96 271.29,218.10 271.85,218.26 272.42,218.45 272.98,218.67 273.55,218.91 274.11,219.17 274.68,219.46 275.24,219.78 275.81,220.13 276.37,220.50 276.94,220.90 277.50,221.32 278.06,221.78 278.63,222.26 279.19,222.77 279.76,223.30 280.32,223.86 280.89,224.44 281.46,225.05 282.02,225.68 282.59,226.34 283.15,227.02 283.72,227.72 284.28,228.44 284.85,229.19 285.41,229.95 285.98,230.73 286.54,231.52 287.11,232.33 287.67,233.16 288.24,234.00 288.80,234.85 289.37,235.71 289.93,236.58 290.50,237.46 291.06,238.34 291.62,239.23 292.19,240.13 292.75,241.02 293.32,241.92 293.88,242.82 294.45,243.72 295.01,244.61 295.58,245.51 296.14,246.39 296.71,247.27 297.27,248.14 297.84,249.01 298.40,249.86 298.97,250.71 299.54,251.54 300.10,252.36 300.67,253.16 301.23,253.96 301.80,254.73 302.36,255.49 302.93,256.24 303.49,256.97 304.06,257.68 304.62,258.37 305.19,259.04 305.75,259.70 306.31,260.34 306.88,260.95 307.44,261.55 308.01,262.13 308.57,262.69 309.14,263.23 309.71,263.75 310.27,264.25 310.84,264.73 311.40,265.19 311.97,265.63 312.53,266.06 313.10,266.46 313.66,266.85 314.23,267.22 314.79,267.57 315.36,267.90 315.92,268.22 316.49,268.52 317.05,268.81 317.62,269.08 318.18,269.34 318.75,269.58 319.31,269.81 319.88,270.02 320.44,270.22 321.00,270.41 321.57,270.59 322.13,270.76 322.70,270.92 323.26,271.06 323.83,271.20 324.39,271.33 324.96,271.45 325.52,271.56 326.09,271.66 326.65,271.75 327.22,271.84 327.78,271.92 328.35,272.00 328.91,272.07 329.48,272.13" fill="none" stroke="#808080" stroke-width="0.9" />
<polyline points="199.53,273.08 200.09,273.08 200.66,273.08 201.22,273.08 201.79,273.08 202.36,273.07 202.92,273.07 203.49,273.07 204.05,273.07 204.62,273.07 205.18,273.07 205.75,273.07 206.31,273.06 206.88,273.06 207.44,273.05 208.00,273.05 208.57,273.04 209.13,273.04 209.70,273.03 210.27,273.02 210.83,273.01 211.40,272.99 211.96,272.98 212.53,272.96 213.09,272.94 213.66,272.91 214.22,272.88 214.78,272.85 215.35,272.80 215.92,272.76 216.48,272.71 217.05,272.64 217.61,272.57 218.18,272.49 218.74,272.40 219.31,272.30 219.87,272.18 220.44,272.05 221.00,271.90 221.56,271.73 222.13,271.55 222.69,271.34 223.26,271.10 223.83,270.84 224.39,270.56 224.96,270.24 225.52,269.89 226.09,269.50 226.65,269.07 227.22,268.61 227.78,268.10 228.34,267.54 228.91,266.94 229.47,266.28 230.04,265.58 230.61,264.81 231.17,263.99 231.74,263.10 232.30,262.16 232.87,261.15 233.43,260.07 234.00,258.92 234.56,257.71 235.12,256.42 235.69,255.06 236.25,253.63 236.82,252.13 237.38,250.56 237.95,248.92 238.52,247.21 239.08,245.43 239.65,243.58 240.21,241.67 240.78,239.70 241.34,237.67 241.91,235.59 242.47,233.46 243.03,231.28 243.60,229.07 244.17,226.81 244.73,224.53 245.30,222.23 245.86,219.90 246.43,217.57 246.99,215.22 247.56,212.89 248.12,210.56 248.69,208.24 249.25,205.95 249.81,203.68 250.38,201.45 250.94,199.27 251.51,197.13 252.07,195.05 252.64,193.03 253.21,191.07 253.77,189.19 254.34,187.38 254.90,185.66 255.47,184.02 256.03,182.47 256.60,181.01 257.16,179.64 257.73,178.38 258.29,177.21 258.86,176.14 259.42,175.17 259.99,174.29 260.55,173.52 261.12,172.84 261.68,172.26 262.25,171.76 262.81,171.36 263.38,171.04 263.94,170.79 264.50,170.62 265.07,170.51 265.63,170.46 266.20,170.45 266.76,170.46 267.33,170.51 267.89,170.62 268.46,170.79 269.02,171.04 269.59,171.36 270.15,171.76 270.72,172.26 271.29,172.84 271.85,173.52 272.42,174.29 272.98,175.17 273.55,176.14 274.11,177.21 274.68,178.38 275.24,179.64 275.81,181.01 276.37,182.47 276.94,184.02 277.50,185.66 278.06,187.38 278.63,189.19 279.19,191.07 279.76,193.03 280.32,195.05 280.89,197.13 281.46,199.27 282.02,201.45 282.59,203.68 283.15,205.95 283.72,208.24 284.28,210.56 284.85,212.89 285.41,215.22 285.98,217.57 286.54,219.90 287.11,222.23 287.67,224.53 288.24,226.81 288.80,229.07 289.37,231.28 289.93,233.46 290.50,235.59 291.06,237.67 291.62,239.70 292.19,241.67 292.75,243.58 293.32,245.43 293.88,247.21 294.45,248.92 295.01,250.56 295.58,252.13 296.14,253.63 296.71,255.06 297.27,256.42 297.84,257.71 298.40,258.92 298.97,260.07 299.54,261.15 300.10,262.16 300.67,263.10 301.23,263.99 301.80,264.81 302.36,265.58 302.93,266.28 303.49,266.94 304.06,267.54 304.62,268.10 305.19,268.61 305.75,269.07 306.31,269.50 306.88,269.89 307.44,270.24 308.01,270.56 308.57,270.84 309.14,271.10 309.71,271.34 310.27,271.55 310.84,271.73 311.40,271.90 311.97,272.05 312.53,272.18 313.10,272.30 313.66,272.40 314.23,272.49 314.79,272.57 315.36,272.64 315.92,272.71 316.49,272.76 317.05,272.80 317.62,272.85 318.18,272.88 318.75,272.91 319.31,272.94 319.88,272.96 320.44,272.98 321.00,272.99 321.57,273.01 322.13,273.02 322.70,273.03 323.26,273.04 323.83,273.04 324.39,273.05 324.96,273.05 325.52,273.06 326.09,273.06 326.65,273.07 327.22,273.07 327.78,273.07 328.35,273.07 328.91,273.07 329.48,273.07" fill="none" stroke="#111" stroke-width="1.2" />
<rect x="205.3" y="156.3" width="41.3" height="52.5" fill="#2c46a6"/>
<path d="M223,192 L229.6,192 C229.8,200 230.6,205 231,208.8 L221.6,208.8 C222,205 222.8,200 223,192 Z" fill="#1f9a78"/>
<path d="M224.2,192 L228.4,192 C228.6,197 228.8,201 228.2,204 L224.4,204 C223.8,201 224,197 224.2,192 Z" fill="#e4dc2c"/>
<ellipse cx="226.2" cy="197.2" rx="1.3" ry="2.4" fill="#e2281a"/>
<circle cx="226.3" cy="175.8" r="18.6" fill="#86cfc4"/>
<line x1="209.00" y1="177.00" x2="243.50" y2="177.00" stroke="#333" stroke-width="0.45" />
<polygon points="208.60,177.00 210.40,176.20 210.40,177.80" fill="#333" stroke="none" stroke-width="0" />
<polygon points="243.90,177.00 242.10,176.20 242.10,177.80" fill="#333" stroke="none" stroke-width="0" />
<text x="226.30" y="173.00" font-family="Liberation Sans" font-size="3.3" font-weight="normal" font-style="normal" fill="#333" text-anchor="middle" dominant-baseline="central" textLength="30" lengthAdjust="spacingAndGlyphs">Microsphere D=3µm</text>
<rect x="285.3" y="167.5" width="41.9" height="26.9" fill="#fff" stroke="#444" stroke-width="0.7"/>
<line x1="288.50" y1="174.60" x2="296.00" y2="174.60" stroke="#111" stroke-width="1.2" />
<line x1="288.50" y1="187.50" x2="296.00" y2="187.50" stroke="#888" stroke-width="1.0" />
<text x="297.00" y="175.00" font-family="Liberation Sans" font-size="9" font-weight="normal" font-style="normal" fill="#1a1a1a" text-anchor="start" dominant-baseline="central" textLength="27.5" lengthAdjust="spacingAndGlyphs" stroke="#1a1a1a" stroke-width="0.2">240nm</text>
<text x="297.00" y="187.90" font-family="Liberation Sans" font-size="9" font-weight="normal" font-style="normal" fill="#1a1a1a" text-anchor="start" dominant-baseline="central" textLength="27.5" lengthAdjust="spacingAndGlyphs" stroke="#1a1a1a" stroke-width="0.2">720nm</text>
<text x="266.20" y="200.60" font-family="Liberation Sans" font-size="10.4" font-weight="normal" font-style="normal" fill="#1a1a1a" text-anchor="middle" dominant-baseline="central" textLength="17" lengthAdjust="spacingAndGlyphs" stroke="#1a1a1a" stroke-width="0.15">2w<tspan font-size="6" dy="1.6">0</tspan></text>
<text x="267.40" y="213.60" font-family="Liberation Sans" font-size="8.6" font-weight="normal" font-style="normal" fill="#1a1a1a" text-anchor="middle" dominant-baseline="central" textLength="34" lengthAdjust="spacingAndGlyphs" stroke="#1a1a1a" stroke-width="0.15">(FWHM)</text>
<line x1="250.14" y1="225.80" x2="284.16" y2="225.80" stroke="#e8321e" stroke-width="2.3" />
<polygon points="246.30,225.80 252.54,221.96 252.54,229.64" fill="#e8321e" stroke="none" stroke-width="0" />
<polygon points="288.00,225.80 281.76,221.96 281.76,229.64" fill="#e8321e" stroke="none" stroke-width="0" />
<text x="267.50" y="233.80" font-family="Liberation Sans" font-size="8.4" font-weight="normal" font-style="normal" fill="#e04848" text-anchor="middle" dominant-baseline="central" textLength="27" lengthAdjust="spacingAndGlyphs">370nm</text>
<line x1="243.32" y1="249.00" x2="290.08" y2="249.00" stroke="#e25c5c" stroke-width="1.4" />
<polygon points="240.60,249.00 245.02,246.28 245.02,251.72" fill="#e25c5c" stroke="none" stroke-width="0" />
<polygon points="292.80,249.00 288.38,246.28 288.38,251.72" fill="#e25c5c" stroke="none" stroke-width="0" />
<text x="267.50" y="255.00" font-family="Liberation Sans" font-size="8.4" font-weight="normal" font-style="normal" fill="#e26464" text-anchor="middle" dominant-baseline="central" textLength="27" lengthAdjust="spacingAndGlyphs">435nm</text>
</svg></body></html>
